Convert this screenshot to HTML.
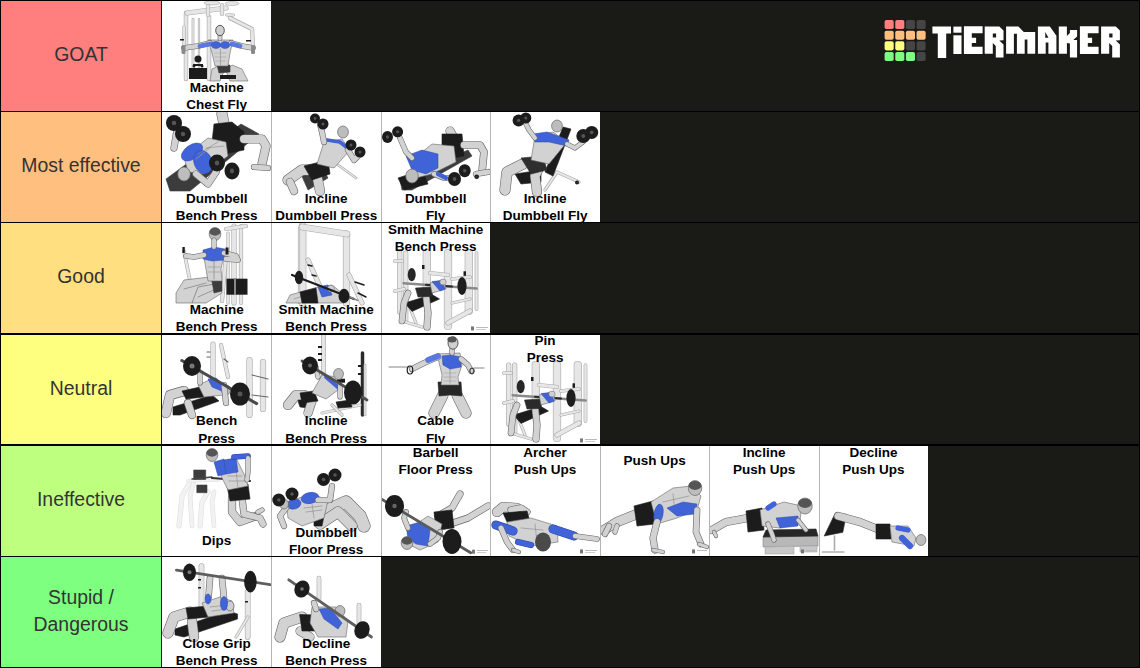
<!DOCTYPE html><html><head><meta charset="utf-8"><style>
html,body{margin:0;padding:0;background:#000;width:1140px;height:668px;overflow:hidden;position:relative;font-family:"Liberation Sans",sans-serif}
.lab{position:absolute;left:1px;width:160px;display:flex;align-items:center;justify-content:center;text-align:center;color:#333;font-size:19.4px;line-height:26.5px;padding-bottom:3.2px;box-sizing:border-box}
.it{position:absolute;background:#fff;overflow:hidden}
.it svg{position:absolute;left:0;top:0}
.cap{position:absolute;width:120px;text-align:center;font-weight:bold;font-size:13.5px;line-height:16px;color:#000;white-space:nowrap}
.logo{position:absolute;left:0;top:0}
</style></head><body>
<div style="position:absolute;left:1px;width:1138px;top:1px;height:109.5px;background:#1a1a17"></div>
<div class="lab" style="top:1px;height:109.5px;background:#ff7f7f">GOAT</div>
<div style="position:absolute;left:1px;width:1138px;top:112px;height:109.5px;background:#1a1a17"></div>
<div class="lab" style="top:112px;height:109.5px;background:#ffbf7f">Most effective</div>
<div style="position:absolute;left:1px;width:1138px;top:223.3px;height:109.5px;background:#1a1a17"></div>
<div class="lab" style="top:223.3px;height:109.5px;background:#ffdf7f">Good</div>
<div style="position:absolute;left:1px;width:1138px;top:334.7px;height:109.5px;background:#1a1a17"></div>
<div class="lab" style="top:334.7px;height:109.5px;background:#ffff7f">Neutral</div>
<div style="position:absolute;left:1px;width:1138px;top:446px;height:109.5px;background:#1a1a17"></div>
<div class="lab" style="top:446px;height:109.5px;background:#bfff7f">Ineffective</div>
<div style="position:absolute;left:1px;width:1138px;top:557.4px;height:109.5px;background:#1a1a17"></div>
<div class="lab" style="top:557.4px;height:109.5px;background:#7fff7f">Stupid /<br>Dangerous</div>
<div class="it" style="left:162.00px;top:1px;width:109.46px;height:109.5px;box-sizing:border-box"><svg width="110" height="110" viewBox="0 0 110 110"><polyline points="24,78 24,12" fill="none" stroke="#a8a8a8" stroke-width="4.4" stroke-linecap="round" stroke-linejoin="round"/><polyline points="24,78 24,12" fill="none" stroke="#e6e6e6" stroke-width="3.2" stroke-linecap="round" stroke-linejoin="round"/><polyline points="47,78 47,16" fill="none" stroke="#a8a8a8" stroke-width="4.4" stroke-linecap="round" stroke-linejoin="round"/><polyline points="47,78 47,16" fill="none" stroke="#e6e6e6" stroke-width="3.2" stroke-linecap="round" stroke-linejoin="round"/><polyline points="31,76 31,18" fill="none" stroke="#a8a8a8" stroke-width="2.7" stroke-linecap="round" stroke-linejoin="round"/><polyline points="31,76 31,18" fill="none" stroke="#e6e6e6" stroke-width="1.5" stroke-linecap="round" stroke-linejoin="round"/><polyline points="37,76 37,18" fill="none" stroke="#a8a8a8" stroke-width="2.2" stroke-linecap="round" stroke-linejoin="round"/><polyline points="37,76 37,18" fill="none" stroke="#e6e6e6" stroke-width="1" stroke-linecap="round" stroke-linejoin="round"/><polyline points="25,12 64,7" fill="none" stroke="#a8a8a8" stroke-width="5.2" stroke-linecap="round" stroke-linejoin="round"/><polyline points="25,12 64,7" fill="none" stroke="#e6e6e6" stroke-width="4" stroke-linecap="round" stroke-linejoin="round"/><ellipse cx="50" cy="2" rx="8" ry="2" fill="#e6e6e6" stroke="#a8a8a8" stroke-width="0.6" transform="rotate(0 50 2)"/><ellipse cx="70" cy="2.5" rx="7" ry="2" fill="#e6e6e6" stroke="#a8a8a8" stroke-width="0.6" transform="rotate(0 70 2.5)"/><polyline points="60,4 60,13" fill="none" stroke="#a8a8a8" stroke-width="4.2" stroke-linecap="round" stroke-linejoin="round"/><polyline points="60,4 60,13" fill="none" stroke="#e6e6e6" stroke-width="3" stroke-linecap="round" stroke-linejoin="round"/><polyline points="46,5 46,14" fill="none" stroke="#a8a8a8" stroke-width="4.2" stroke-linecap="round" stroke-linejoin="round"/><polyline points="46,5 46,14" fill="none" stroke="#e6e6e6" stroke-width="3" stroke-linecap="round" stroke-linejoin="round"/><ellipse cx="68" cy="14" rx="5" ry="1.6" fill="#e6e6e6" stroke="#a8a8a8" stroke-width="0.6" transform="rotate(0 68 14)"/><polyline points="68,17 90,28 91,46" fill="none" stroke="#a8a8a8" stroke-width="4.2" stroke-linecap="round" stroke-linejoin="round"/><polyline points="68,17 90,28 91,46" fill="none" stroke="#e6e6e6" stroke-width="3" stroke-linecap="round" stroke-linejoin="round"/><polyline points="22,26 22,48" fill="none" stroke="#a8a8a8" stroke-width="3.2" stroke-linecap="round" stroke-linejoin="round"/><polyline points="22,26 22,48" fill="none" stroke="#e6e6e6" stroke-width="2" stroke-linecap="round" stroke-linejoin="round"/><rect x="18" y="38" width="4" height="1.5" fill="#1c1c1c" stroke="none" stroke-width="0" rx="0"/><rect x="84" y="39" width="5" height="1.5" fill="#1c1c1c" stroke="none" stroke-width="0" rx="0"/><rect x="27" y="67" width="18" height="11" fill="#1c1c1c" stroke="none" stroke-width="0" rx="0"/><ellipse cx="36" cy="58" rx="3.5" ry="3.5" fill="#1c1c1c" stroke="none" stroke-width="0" transform="rotate(0 36 58)"/><rect x="31" y="63" width="10" height="2" fill="#1c1c1c" stroke="none" stroke-width="0" rx="0"/><ellipse cx="32" cy="65" rx="1.5" ry="1.5" fill="#1c1c1c" stroke="none" stroke-width="0" transform="rotate(0 32 65)"/><ellipse cx="40" cy="65" rx="1.5" ry="1.5" fill="#1c1c1c" stroke="none" stroke-width="0" transform="rotate(0 40 65)"/><polygon points="48,80 50,68 58,64 62,70 58,80" fill="#d2d2d2" stroke="#666666" stroke-width="0.6" stroke-linejoin="round"/><polygon points="64,70 70,64 80,68 86,80 68,80" fill="#d2d2d2" stroke="#666666" stroke-width="0.6" stroke-linejoin="round"/><polygon points="55,64 68,64 68,71 57,72" fill="#3a3a3a" stroke="#3a3a3a" stroke-width="0.6" stroke-linejoin="round"/><rect x="58" y="74" width="16" height="4" fill="#1c1c1c" stroke="none" stroke-width="0" rx="0"/><polygon points="46,39 71,39 68,52 66,65 53,65 50,52" fill="#d2d2d2" stroke="#666666" stroke-width="0.6" stroke-linejoin="round"/><line x1="58.5" y1="48" x2="58.5" y2="64" stroke="#888" stroke-width="0.6" stroke-linecap="round"/><line x1="53" y1="52" x2="64" y2="52" stroke="#999" stroke-width="0.5" stroke-linecap="round"/><line x1="53" y1="56" x2="64" y2="56" stroke="#999" stroke-width="0.5" stroke-linecap="round"/><line x1="54" y1="60" x2="63" y2="60" stroke="#999" stroke-width="0.5" stroke-linecap="round"/><polyline points="22,47 36,45 48,42" fill="none" stroke="#666666" stroke-width="5.7" stroke-linecap="round" stroke-linejoin="round"/><polyline points="22,47 36,45 48,42" fill="none" stroke="#d2d2d2" stroke-width="4.5" stroke-linecap="round" stroke-linejoin="round"/><polyline points="69,42 80,45 91,47" fill="none" stroke="#666666" stroke-width="5.7" stroke-linecap="round" stroke-linejoin="round"/><polyline points="69,42 80,45 91,47" fill="none" stroke="#d2d2d2" stroke-width="4.5" stroke-linecap="round" stroke-linejoin="round"/><polyline points="38,45 48,43" fill="none" stroke="#5a78e0" stroke-width="4.7" stroke-linecap="round" stroke-linejoin="round"/><polyline points="38,45 48,43" fill="none" stroke="#5a78e0" stroke-width="3.5" stroke-linecap="round" stroke-linejoin="round"/><polyline points="70,43 78,45" fill="none" stroke="#5a78e0" stroke-width="4.7" stroke-linecap="round" stroke-linejoin="round"/><polyline points="70,43 78,45" fill="none" stroke="#5a78e0" stroke-width="3.5" stroke-linecap="round" stroke-linejoin="round"/><ellipse cx="54" cy="44" rx="4.8" ry="3.6" fill="#4163d8" stroke="#2a47a8" stroke-width="0.4" transform="rotate(0 54 44)"/><ellipse cx="63" cy="44" rx="4.8" ry="3.6" fill="#4163d8" stroke="#2a47a8" stroke-width="0.4" transform="rotate(0 63 44)"/><polyline points="58,34 58,38" fill="none" stroke="#666666" stroke-width="4.7" stroke-linecap="round" stroke-linejoin="round"/><polyline points="58,34 58,38" fill="none" stroke="#d2d2d2" stroke-width="3.5" stroke-linecap="round" stroke-linejoin="round"/><ellipse cx="58" cy="29.5" rx="4.3" ry="5.2" fill="#cfcfcf" stroke="#444" stroke-width="0.9" transform="rotate(0 58 29.5)"/><rect x="19.5" y="44" width="4" height="9" fill="#8a8a8a" stroke="none" stroke-width="0" rx="1.5"/><rect x="89" y="44" width="4" height="9" fill="#8a8a8a" stroke="none" stroke-width="0" rx="1.5"/></svg></div>
<div class="cap" style="left:156.73px;top:79.70px">Machine</div><div class="cap" style="left:156.73px;top:97.00px">Chest Fly</div>
<div class="it" style="left:162.00px;top:112px;width:109.46px;height:109.5px;box-sizing:border-box"><svg width="110" height="110" viewBox="0 0 110 110"><polygon points="4,67 79,12 97,22 28,79 8,79" fill="#3c3c3c" stroke="#3c3c3c" stroke-width="0.6" stroke-linejoin="round"/><polyline points="60,2 62,12" fill="none" stroke="#666666" stroke-width="11.2" stroke-linecap="round" stroke-linejoin="round"/><polyline points="60,2 62,12" fill="none" stroke="#d2d2d2" stroke-width="10" stroke-linecap="round" stroke-linejoin="round"/><polygon points="52,12 70,10 82,20 82,38 62,42 50,30" fill="#1c1c1c" stroke="#1c1c1c" stroke-width="0.6" stroke-linejoin="round"/><polyline points="82,27 100,27 104,34 100,52" fill="none" stroke="#666666" stroke-width="9.2" stroke-linecap="round" stroke-linejoin="round"/><polyline points="82,27 100,27 104,34 100,52" fill="none" stroke="#d2d2d2" stroke-width="8" stroke-linecap="round" stroke-linejoin="round"/><polyline points="92,55 106,56" fill="none" stroke="#666666" stroke-width="6.2" stroke-linecap="round" stroke-linejoin="round"/><polyline points="92,55 106,56" fill="none" stroke="#d2d2d2" stroke-width="5" stroke-linecap="round" stroke-linejoin="round"/><polygon points="22,45 46,26 64,30 66,44 42,62 26,60" fill="#d2d2d2" stroke="#666666" stroke-width="0.6" stroke-linejoin="round"/><ellipse cx="30" cy="40" rx="12" ry="7" fill="#4163d8" stroke="#2a47a8" stroke-width="0.5" transform="rotate(-35 30 40)"/><ellipse cx="41" cy="50" rx="9" ry="12" fill="#4163d8" stroke="#2a47a8" stroke-width="0.5" transform="rotate(-20 41 50)"/><line x1="34" y1="47" x2="48" y2="36" stroke="#999" stroke-width="0.8" stroke-linecap="round"/><line x1="36" y1="42" x2="56" y2="30" stroke="#888" stroke-width="0.6" stroke-linecap="round"/><line x1="44" y1="36" x2="62" y2="34" stroke="#888" stroke-width="0.6" stroke-linecap="round"/><polyline points="12,36 14,24 16,14" fill="none" stroke="#666666" stroke-width="7.2" stroke-linecap="round" stroke-linejoin="round"/><polyline points="12,36 14,24 16,14" fill="none" stroke="#d2d2d2" stroke-width="6" stroke-linecap="round" stroke-linejoin="round"/><polyline points="34,62 46,72 54,60 56,54" fill="none" stroke="#666666" stroke-width="7.2" stroke-linecap="round" stroke-linejoin="round"/><polyline points="34,62 46,72 54,60 56,54" fill="none" stroke="#d2d2d2" stroke-width="6" stroke-linecap="round" stroke-linejoin="round"/><ellipse cx="22" cy="62" rx="6.3" ry="7" fill="#bdbdbd" stroke="#666666" stroke-width="0.7" transform="rotate(0 22 62)"/><ellipse cx="12" cy="11" rx="8" ry="8" fill="#1c1c1c" stroke="none" stroke-width="0" transform="rotate(0 12 11)"/><ellipse cx="12" cy="11" rx="2.24" ry="2.24" fill="#555" stroke="none" stroke-width="0" transform="rotate(0 12 11)"/><ellipse cx="21" cy="22" rx="8" ry="8" fill="#1c1c1c" stroke="none" stroke-width="0" transform="rotate(0 21 22)"/><ellipse cx="21" cy="22" rx="2.24" ry="2.24" fill="#555" stroke="none" stroke-width="0" transform="rotate(0 21 22)"/><ellipse cx="55" cy="51" rx="8" ry="8.5" fill="#1c1c1c" stroke="none" stroke-width="0" transform="rotate(0 55 51)"/><ellipse cx="55" cy="51" rx="2.24" ry="2.3800000000000003" fill="#555" stroke="none" stroke-width="0" transform="rotate(0 55 51)"/><ellipse cx="70" cy="59" rx="7.5" ry="8.5" fill="#1c1c1c" stroke="none" stroke-width="0" transform="rotate(0 70 59)"/><ellipse cx="70" cy="59" rx="2.1" ry="2.3800000000000003" fill="#555" stroke="none" stroke-width="0" transform="rotate(0 70 59)"/></svg></div>
<div class="cap" style="left:156.73px;top:190.70px">Dumbbell</div><div class="cap" style="left:156.73px;top:208.00px">Bench Press</div>
<div class="it" style="left:271.46px;top:112px;width:109.46px;height:109.5px;border-left:1px solid #b4b4b4;box-sizing:border-box"><svg width="110" height="110" viewBox="0 0 110 110"><polygon points="28,60 48,52 56,66 36,78" fill="#3c3c3c" stroke="#3c3c3c" stroke-width="0.6" stroke-linejoin="round"/><polyline points="62,50 84,66" fill="none" stroke="#a8a8a8" stroke-width="2.7" stroke-linecap="round" stroke-linejoin="round"/><polyline points="62,50 84,66" fill="none" stroke="#e6e6e6" stroke-width="1.5" stroke-linecap="round" stroke-linejoin="round"/><polyline points="16,68 30,58 38,58" fill="none" stroke="#666666" stroke-width="11.2" stroke-linecap="round" stroke-linejoin="round"/><polyline points="16,68 30,58 38,58" fill="none" stroke="#d2d2d2" stroke-width="10" stroke-linecap="round" stroke-linejoin="round"/><polyline points="18,70 22,79" fill="none" stroke="#666666" stroke-width="8.2" stroke-linecap="round" stroke-linejoin="round"/><polyline points="18,70 22,79" fill="none" stroke="#d2d2d2" stroke-width="7" stroke-linecap="round" stroke-linejoin="round"/><polyline points="45,64 48,79" fill="none" stroke="#666666" stroke-width="10.2" stroke-linecap="round" stroke-linejoin="round"/><polyline points="45,64 48,79" fill="none" stroke="#d2d2d2" stroke-width="9" stroke-linecap="round" stroke-linejoin="round"/><polygon points="32,54 56,48 58,62 40,68" fill="#1c1c1c" stroke="#1c1c1c" stroke-width="0.6" stroke-linejoin="round"/><polygon points="45,52 52,30 70,27 78,38 62,56" fill="#d2d2d2" stroke="#666666" stroke-width="0.6" stroke-linejoin="round"/><polyline points="55,28 68,30 78,38" fill="none" stroke="#4163d8" stroke-width="3.7" stroke-linecap="round" stroke-linejoin="round"/><polyline points="55,28 68,30 78,38" fill="none" stroke="#4163d8" stroke-width="2.5" stroke-linecap="round" stroke-linejoin="round"/><polyline points="52,30 50,20 48,12" fill="none" stroke="#666666" stroke-width="6.2" stroke-linecap="round" stroke-linejoin="round"/><polyline points="52,30 50,20 48,12" fill="none" stroke="#d2d2d2" stroke-width="5" stroke-linecap="round" stroke-linejoin="round"/><polyline points="76,38 82,48 86,44" fill="none" stroke="#666666" stroke-width="6.2" stroke-linecap="round" stroke-linejoin="round"/><polyline points="76,38 82,48 86,44" fill="none" stroke="#d2d2d2" stroke-width="5" stroke-linecap="round" stroke-linejoin="round"/><ellipse cx="71" cy="20" rx="5.4" ry="6" fill="#bdbdbd" stroke="#666666" stroke-width="0.7" transform="rotate(0 71 20)"/><ellipse cx="43" cy="6.5" rx="5" ry="5" fill="#1c1c1c" stroke="none" stroke-width="0" transform="rotate(0 43 6.5)"/><ellipse cx="43" cy="6.5" rx="1.4000000000000001" ry="1.4000000000000001" fill="#555" stroke="none" stroke-width="0" transform="rotate(0 43 6.5)"/><ellipse cx="51" cy="12" rx="5.5" ry="5.5" fill="#1c1c1c" stroke="none" stroke-width="0" transform="rotate(0 51 12)"/><ellipse cx="51" cy="12" rx="1.54" ry="1.54" fill="#555" stroke="none" stroke-width="0" transform="rotate(0 51 12)"/><ellipse cx="79" cy="33" rx="5.5" ry="5.5" fill="#1c1c1c" stroke="none" stroke-width="0" transform="rotate(0 79 33)"/><ellipse cx="79" cy="33" rx="1.54" ry="1.54" fill="#555" stroke="none" stroke-width="0" transform="rotate(0 79 33)"/><ellipse cx="88" cy="40" rx="5.5" ry="5.5" fill="#1c1c1c" stroke="none" stroke-width="0" transform="rotate(0 88 40)"/><ellipse cx="88" cy="40" rx="1.54" ry="1.54" fill="#555" stroke="none" stroke-width="0" transform="rotate(0 88 40)"/></svg></div>
<div class="cap" style="left:266.19px;top:190.70px">Incline</div><div class="cap" style="left:266.19px;top:208.00px">Dumbbell Press</div>
<div class="it" style="left:380.92px;top:112px;width:109.46px;height:109.5px;border-left:1px solid #b4b4b4;box-sizing:border-box"><svg width="110" height="110" viewBox="0 0 110 110"><polygon points="18,68 86,38 90,44 30,78 20,78" fill="#3c3c3c" stroke="#3c3c3c" stroke-width="0.6" stroke-linejoin="round"/><polygon points="16,66 40,58 46,72 22,78" fill="#1c1c1c" stroke="#1c1c1c" stroke-width="0.6" stroke-linejoin="round"/><polyline points="68,19 72,26" fill="none" stroke="#666666" stroke-width="9.2" stroke-linecap="round" stroke-linejoin="round"/><polyline points="68,19 72,26" fill="none" stroke="#d2d2d2" stroke-width="8" stroke-linecap="round" stroke-linejoin="round"/><polygon points="60,22 80,22 82,44 60,48" fill="#1c1c1c" stroke="#1c1c1c" stroke-width="0.6" stroke-linejoin="round"/><polyline points="82,33 98,33 102,40 100,60" fill="none" stroke="#666666" stroke-width="7.7" stroke-linecap="round" stroke-linejoin="round"/><polyline points="82,33 98,33 102,40 100,60" fill="none" stroke="#d2d2d2" stroke-width="6.5" stroke-linecap="round" stroke-linejoin="round"/><polyline points="94,62 106,60" fill="none" stroke="#666666" stroke-width="6.2" stroke-linecap="round" stroke-linejoin="round"/><polyline points="94,62 106,60" fill="none" stroke="#d2d2d2" stroke-width="5" stroke-linecap="round" stroke-linejoin="round"/><polygon points="28,50 50,32 72,34 74,50 50,62 34,66" fill="#d2d2d2" stroke="#666666" stroke-width="0.6" stroke-linejoin="round"/><polygon points="24,44 40,38 56,42 56,56 44,62 30,58" fill="#4163d8" stroke="#2a47a8" stroke-width="0.5" stroke-linejoin="round"/><polyline points="18,26 24,40 30,46" fill="none" stroke="#666666" stroke-width="5.7" stroke-linecap="round" stroke-linejoin="round"/><polyline points="18,26 24,40 30,46" fill="none" stroke="#d2d2d2" stroke-width="4.5" stroke-linecap="round" stroke-linejoin="round"/><polyline points="52,62 62,66 70,66" fill="none" stroke="#666666" stroke-width="5.7" stroke-linecap="round" stroke-linejoin="round"/><polyline points="52,62 62,66 70,66" fill="none" stroke="#d2d2d2" stroke-width="4.5" stroke-linecap="round" stroke-linejoin="round"/><polyline points="56,62 64,66" fill="none" stroke="#4163d8" stroke-width="4.2" stroke-linecap="round" stroke-linejoin="round"/><polyline points="56,62 64,66" fill="none" stroke="#4163d8" stroke-width="3" stroke-linecap="round" stroke-linejoin="round"/><ellipse cx="30" cy="64" rx="6.3" ry="7" fill="#bdbdbd" stroke="#666666" stroke-width="0.7" transform="rotate(0 30 64)"/><ellipse cx="15.6" cy="19.8" rx="5.5" ry="5.5" fill="#1c1c1c" stroke="none" stroke-width="0" transform="rotate(0 15.6 19.8)"/><ellipse cx="15.6" cy="19.8" rx="1.54" ry="1.54" fill="#555" stroke="none" stroke-width="0" transform="rotate(0 15.6 19.8)"/><ellipse cx="5.5" cy="25" rx="5.5" ry="6" fill="#1c1c1c" stroke="none" stroke-width="0" transform="rotate(0 5.5 25)"/><ellipse cx="5.5" cy="25" rx="1.54" ry="1.6800000000000002" fill="#555" stroke="none" stroke-width="0" transform="rotate(0 5.5 25)"/><ellipse cx="82.7" cy="58.7" rx="6" ry="6.5" fill="#1c1c1c" stroke="none" stroke-width="0" transform="rotate(0 82.7 58.7)"/><ellipse cx="82.7" cy="58.7" rx="1.6800000000000002" ry="1.8200000000000003" fill="#555" stroke="none" stroke-width="0" transform="rotate(0 82.7 58.7)"/><ellipse cx="72.5" cy="67" rx="6.5" ry="7" fill="#1c1c1c" stroke="none" stroke-width="0" transform="rotate(0 72.5 67)"/><ellipse cx="72.5" cy="67" rx="1.8200000000000003" ry="1.9600000000000002" fill="#555" stroke="none" stroke-width="0" transform="rotate(0 72.5 67)"/><ellipse cx="94.7" cy="64.7" rx="2.3" ry="2.3" fill="#1c1c1c" stroke="none" stroke-width="0" transform="rotate(0 94.7 64.7)"/><ellipse cx="94.7" cy="64.7" rx="0.644" ry="0.644" fill="#555" stroke="none" stroke-width="0" transform="rotate(0 94.7 64.7)"/></svg></div>
<div class="cap" style="left:375.65px;top:190.70px">Dumbbell</div><div class="cap" style="left:375.65px;top:208.00px">Fly</div>
<div class="it" style="left:490.38px;top:112px;width:109.46px;height:109.5px;border-left:1px solid #b4b4b4;box-sizing:border-box"><svg width="110" height="110" viewBox="0 0 110 110"><polyline points="54,78 66,60 88,70" fill="none" stroke="#a8a8a8" stroke-width="3.2" stroke-linecap="round" stroke-linejoin="round"/><polyline points="54,78 66,60 88,70" fill="none" stroke="#e6e6e6" stroke-width="2" stroke-linecap="round" stroke-linejoin="round"/><ellipse cx="86" cy="70.5" rx="2" ry="2" fill="#1c1c1c" stroke="none" stroke-width="0" transform="rotate(0 86 70.5)"/><ellipse cx="86" cy="70.5" rx="0.56" ry="0.56" fill="#555" stroke="none" stroke-width="0" transform="rotate(0 86 70.5)"/><polygon points="72,15 80,17 62,64 54,60" fill="#1c1c1c" stroke="#1c1c1c" stroke-width="0.6" stroke-linejoin="round"/><polygon points="24,62 50,58 50,70 30,72" fill="#1c1c1c" stroke="#1c1c1c" stroke-width="0.6" stroke-linejoin="round"/><polyline points="14,78 16,60 32,52" fill="none" stroke="#666666" stroke-width="11.2" stroke-linecap="round" stroke-linejoin="round"/><polyline points="14,78 16,60 32,52" fill="none" stroke="#d2d2d2" stroke-width="10" stroke-linecap="round" stroke-linejoin="round"/><polyline points="46,80 44,64 48,56" fill="none" stroke="#666666" stroke-width="10.2" stroke-linecap="round" stroke-linejoin="round"/><polyline points="46,80 44,64 48,56" fill="none" stroke="#d2d2d2" stroke-width="9" stroke-linecap="round" stroke-linejoin="round"/><polygon points="30,46 52,44 56,58 40,62" fill="#2e2e2e" stroke="#2e2e2e" stroke-width="0.6" stroke-linejoin="round"/><polygon points="40,48 44,24 62,20 76,30 58,52" fill="#d2d2d2" stroke="#666666" stroke-width="0.6" stroke-linejoin="round"/><polygon points="42,22 56,20 78,28 76,34 58,30 44,30" fill="#4163d8" stroke="#2a47a8" stroke-width="0.5" stroke-linejoin="round"/><polyline points="44,26 38,18 34,10" fill="none" stroke="#666666" stroke-width="5.2" stroke-linecap="round" stroke-linejoin="round"/><polyline points="44,26 38,18 34,10" fill="none" stroke="#d2d2d2" stroke-width="4" stroke-linecap="round" stroke-linejoin="round"/><polyline points="76,32 84,36 92,30" fill="none" stroke="#666666" stroke-width="5.2" stroke-linecap="round" stroke-linejoin="round"/><polyline points="76,32 84,36 92,30" fill="none" stroke="#d2d2d2" stroke-width="4" stroke-linecap="round" stroke-linejoin="round"/><ellipse cx="66" cy="14" rx="5.4" ry="6" fill="#bdbdbd" stroke="#666666" stroke-width="0.7" transform="rotate(0 66 14)"/><ellipse cx="27.6" cy="8.4" rx="6" ry="6" fill="#1c1c1c" stroke="none" stroke-width="0" transform="rotate(0 27.6 8.4)"/><ellipse cx="27.6" cy="8.4" rx="1.6800000000000002" ry="1.6800000000000002" fill="#555" stroke="none" stroke-width="0" transform="rotate(0 27.6 8.4)"/><ellipse cx="34.8" cy="6" rx="5.5" ry="5.5" fill="#1c1c1c" stroke="none" stroke-width="0" transform="rotate(0 34.8 6)"/><ellipse cx="34.8" cy="6" rx="1.54" ry="1.54" fill="#555" stroke="none" stroke-width="0" transform="rotate(0 34.8 6)"/><ellipse cx="92.3" cy="24" rx="7" ry="7" fill="#1c1c1c" stroke="none" stroke-width="0" transform="rotate(0 92.3 24)"/><ellipse cx="92.3" cy="24" rx="1.9600000000000002" ry="1.9600000000000002" fill="#555" stroke="none" stroke-width="0" transform="rotate(0 92.3 24)"/><ellipse cx="100.7" cy="20.4" rx="6.5" ry="6.5" fill="#1c1c1c" stroke="none" stroke-width="0" transform="rotate(0 100.7 20.4)"/><ellipse cx="100.7" cy="20.4" rx="1.8200000000000003" ry="1.8200000000000003" fill="#555" stroke="none" stroke-width="0" transform="rotate(0 100.7 20.4)"/></svg></div>
<div class="cap" style="left:485.11px;top:190.70px">Incline</div><div class="cap" style="left:485.11px;top:208.00px">Dumbbell Fly</div>
<div class="it" style="left:162.00px;top:223.3px;width:109.46px;height:109.5px;box-sizing:border-box"><svg width="110" height="110" viewBox="0 0 110 110"><polyline points="72,80 72,3" fill="none" stroke="#a8a8a8" stroke-width="5.2" stroke-linecap="round" stroke-linejoin="round"/><polyline points="72,80 72,3" fill="none" stroke="#e6e6e6" stroke-width="4" stroke-linecap="round" stroke-linejoin="round"/><polyline points="79,80 79,3" fill="none" stroke="#a8a8a8" stroke-width="4.2" stroke-linecap="round" stroke-linejoin="round"/><polyline points="79,80 79,3" fill="none" stroke="#e6e6e6" stroke-width="3" stroke-linecap="round" stroke-linejoin="round"/><polyline points="64,6 84,3" fill="none" stroke="#a8a8a8" stroke-width="4.2" stroke-linecap="round" stroke-linejoin="round"/><polyline points="64,6 84,3" fill="none" stroke="#e6e6e6" stroke-width="3" stroke-linecap="round" stroke-linejoin="round"/><polyline points="66,80 66,10" fill="none" stroke="#a8a8a8" stroke-width="3.2" stroke-linecap="round" stroke-linejoin="round"/><polyline points="66,80 66,10" fill="none" stroke="#e6e6e6" stroke-width="2" stroke-linecap="round" stroke-linejoin="round"/><polyline points="22,28 28,58" fill="none" stroke="#a8a8a8" stroke-width="3.7" stroke-linecap="round" stroke-linejoin="round"/><polyline points="22,28 28,58" fill="none" stroke="#e6e6e6" stroke-width="2.5" stroke-linecap="round" stroke-linejoin="round"/><polyline points="64,32 60,78" fill="none" stroke="#a8a8a8" stroke-width="4.2" stroke-linecap="round" stroke-linejoin="round"/><polyline points="64,32 60,78" fill="none" stroke="#e6e6e6" stroke-width="3" stroke-linecap="round" stroke-linejoin="round"/><rect x="64.5" y="55.7" width="21" height="16" fill="#1c1c1c" stroke="none" stroke-width="0" rx="0"/><rect x="72" y="55" width="2" height="17" fill="#888" stroke="none" stroke-width="0" rx="0"/><polygon points="22,57 48,54 52,64 30,80 14,80 14,70" fill="#d2d2d2" stroke="#666666" stroke-width="0.6" stroke-linejoin="round"/><polygon points="36,64 58,60 60,70 44,80 30,80" fill="#d2d2d2" stroke="#666666" stroke-width="0.6" stroke-linejoin="round"/><line x1="22" y1="66" x2="44" y2="60" stroke="#888" stroke-width="0.8" stroke-linecap="round"/><line x1="36" y1="74" x2="54" y2="66" stroke="#888" stroke-width="0.8" stroke-linecap="round"/><polygon points="50,58 60,58 60,68 52,70" fill="#3c3c3c" stroke="#3c3c3c" stroke-width="0.6" stroke-linejoin="round"/><polygon points="42,34 62,32 59,46 60,58 46,58 44,46" fill="#d2d2d2" stroke="#666666" stroke-width="0.6" stroke-linejoin="round"/><line x1="52" y1="38" x2="52" y2="56" stroke="#888" stroke-width="0.7" stroke-linecap="round"/><line x1="46" y1="44" x2="58" y2="44" stroke="#999" stroke-width="0.6" stroke-linecap="round"/><line x1="46" y1="49" x2="58" y2="49" stroke="#999" stroke-width="0.6" stroke-linecap="round"/><polygon points="41,27 52,24 63,26 62,37 50,38 41,36" fill="#4163d8" stroke="#2a47a8" stroke-width="0.5" stroke-linejoin="round"/><polyline points="42,32 32,34 24,33" fill="none" stroke="#666666" stroke-width="5.7" stroke-linecap="round" stroke-linejoin="round"/><polyline points="42,32 32,34 24,33" fill="none" stroke="#d2d2d2" stroke-width="4.5" stroke-linecap="round" stroke-linejoin="round"/><polyline points="62,30 74,33 76,37 64,36" fill="none" stroke="#666666" stroke-width="5.7" stroke-linecap="round" stroke-linejoin="round"/><polyline points="62,30 74,33 76,37 64,36" fill="none" stroke="#d2d2d2" stroke-width="4.5" stroke-linecap="round" stroke-linejoin="round"/><ellipse cx="53" cy="11" rx="5.8500000000000005" ry="6.5" fill="#bdbdbd" stroke="#666666" stroke-width="0.7" transform="rotate(0 53 11)"/><ellipse cx="53" cy="8.725" rx="5.5249999999999995" ry="3.9" fill="#555" stroke="none" stroke-width="0" transform="rotate(0 53 8.725)"/><polyline points="52,17 52,24" fill="none" stroke="#666666" stroke-width="5.2" stroke-linecap="round" stroke-linejoin="round"/><polyline points="52,17 52,24" fill="none" stroke="#d2d2d2" stroke-width="4" stroke-linecap="round" stroke-linejoin="round"/><rect x="20.4" y="24" width="2.4" height="6" fill="#1c1c1c" stroke="none" stroke-width="0" rx="0"/><rect x="63.5" y="24.5" width="3" height="7" fill="#1c1c1c" stroke="none" stroke-width="0" rx="0"/></svg></div>
<div class="cap" style="left:156.73px;top:302.00px">Machine</div><div class="cap" style="left:156.73px;top:319.30px">Bench Press</div>
<div class="it" style="left:271.46px;top:223.3px;width:109.46px;height:109.5px;border-left:1px solid #b4b4b4;box-sizing:border-box"><svg width="110" height="110" viewBox="0 0 110 110"><polyline points="30.5,80 30.5,3" fill="none" stroke="#a8a8a8" stroke-width="7.7" stroke-linecap="round" stroke-linejoin="round"/><polyline points="30.5,80 30.5,3" fill="none" stroke="#e6e6e6" stroke-width="6.5" stroke-linecap="round" stroke-linejoin="round"/><polyline points="74.5,80 74.5,11" fill="none" stroke="#a8a8a8" stroke-width="7.2" stroke-linecap="round" stroke-linejoin="round"/><polyline points="74.5,80 74.5,11" fill="none" stroke="#e6e6e6" stroke-width="6" stroke-linecap="round" stroke-linejoin="round"/><polyline points="30,4 75,11" fill="none" stroke="#a8a8a8" stroke-width="6.7" stroke-linecap="round" stroke-linejoin="round"/><polyline points="30,4 75,11" fill="none" stroke="#e6e6e6" stroke-width="5.5" stroke-linecap="round" stroke-linejoin="round"/><polyline points="27,80 27,5" fill="none" stroke="#a8a8a8" stroke-width="2.2" stroke-linecap="round" stroke-linejoin="round"/><polyline points="27,80 27,5" fill="none" stroke="#e6e6e6" stroke-width="1" stroke-linecap="round" stroke-linejoin="round"/><polyline points="36,37 50,68" fill="none" stroke="#a8a8a8" stroke-width="5.2" stroke-linecap="round" stroke-linejoin="round"/><polyline points="36,37 50,68" fill="none" stroke="#e6e6e6" stroke-width="4" stroke-linecap="round" stroke-linejoin="round"/><polyline points="77,52 90,80" fill="none" stroke="#a8a8a8" stroke-width="5.2" stroke-linecap="round" stroke-linejoin="round"/><polyline points="77,52 90,80" fill="none" stroke="#e6e6e6" stroke-width="4" stroke-linecap="round" stroke-linejoin="round"/><line x1="36" y1="42" x2="40" y2="43" stroke="#1c1c1c" stroke-width="1.5" stroke-linecap="round"/><line x1="40" y1="52" x2="44" y2="53" stroke="#1c1c1c" stroke-width="1.5" stroke-linecap="round"/><line x1="83" y1="59" x2="92" y2="62" stroke="#1c1c1c" stroke-width="1.5" stroke-linecap="round"/><line x1="86" y1="70" x2="94" y2="74" stroke="#1c1c1c" stroke-width="1.5" stroke-linecap="round"/><polygon points="14,80 18,72 32,68 46,64 60,62 70,70 72,80" fill="#d2d2d2" stroke="#666666" stroke-width="0.6" stroke-linejoin="round"/><line x1="22" y1="76" x2="34" y2="72" stroke="#888" stroke-width="0.6" stroke-linecap="round"/><line x1="50" y1="70" x2="62" y2="68" stroke="#888" stroke-width="0.6" stroke-linecap="round"/><polygon points="28,69 44,65 46,80 30,80" fill="#1c1c1c" stroke="#1c1c1c" stroke-width="0.6" stroke-linejoin="round"/><polygon points="46,64 56,62 60,72 50,74" fill="#4163d8" stroke="#2a47a8" stroke-width="0.5" stroke-linejoin="round"/><ellipse cx="59" cy="65.5" rx="3.4" ry="3.2" fill="#d0d0d0" stroke="#666666" stroke-width="0.5" transform="rotate(0 59 65.5)"/><line x1="20" y1="52" x2="82" y2="76" stroke="#1c1c1c" stroke-width="2.2" stroke-linecap="round"/><line x1="74" y1="72.5" x2="86" y2="77.5" stroke="#888" stroke-width="1.6" stroke-linecap="round"/><ellipse cx="27" cy="54.5" rx="4.2" ry="6.8" fill="#1c1c1c" stroke="none" stroke-width="0" transform="rotate(0 27 54.5)"/><ellipse cx="72" cy="73" rx="5.5" ry="7.2" fill="#1c1c1c" stroke="none" stroke-width="0" transform="rotate(0 72 73)"/></svg></div>
<div class="cap" style="left:266.19px;top:302.00px">Smith Machine</div><div class="cap" style="left:266.19px;top:319.30px">Bench Press</div>
<div class="it" style="left:380.92px;top:223.3px;width:109.46px;height:109.5px;border-left:1px solid #b4b4b4;box-sizing:border-box"><svg width="110" height="110" viewBox="0 0 110 110"><polyline points="17.7,30 17.7,89" fill="none" stroke="#a8a8a8" stroke-width="5.2" stroke-linecap="round" stroke-linejoin="round"/><polyline points="17.7,30 17.7,89" fill="none" stroke="#e6e6e6" stroke-width="4" stroke-linecap="round" stroke-linejoin="round"/><polyline points="23.7,30 23.7,97" fill="none" stroke="#a8a8a8" stroke-width="5.2" stroke-linecap="round" stroke-linejoin="round"/><polyline points="23.7,30 23.7,97" fill="none" stroke="#e6e6e6" stroke-width="4" stroke-linecap="round" stroke-linejoin="round"/><polyline points="44.8,30 44.8,76" fill="none" stroke="#a8a8a8" stroke-width="8.2" stroke-linecap="round" stroke-linejoin="round"/><polyline points="44.8,30 44.8,76" fill="none" stroke="#e6e6e6" stroke-width="7" stroke-linecap="round" stroke-linejoin="round"/><polyline points="66,30 66,103" fill="none" stroke="#a8a8a8" stroke-width="8.2" stroke-linecap="round" stroke-linejoin="round"/><polyline points="66,30 66,103" fill="none" stroke="#e6e6e6" stroke-width="7" stroke-linecap="round" stroke-linejoin="round"/><polyline points="86.8,30 86.8,88" fill="none" stroke="#a8a8a8" stroke-width="8.2" stroke-linecap="round" stroke-linejoin="round"/><polyline points="86.8,30 86.8,88" fill="none" stroke="#e6e6e6" stroke-width="7" stroke-linecap="round" stroke-linejoin="round"/><polyline points="94.5,30 94.5,86" fill="none" stroke="#a8a8a8" stroke-width="3.7" stroke-linecap="round" stroke-linejoin="round"/><polyline points="94.5,30 94.5,86" fill="none" stroke="#e6e6e6" stroke-width="2.5" stroke-linecap="round" stroke-linejoin="round"/><polyline points="13,38 20,38" fill="none" stroke="#a8a8a8" stroke-width="3.7" stroke-linecap="round" stroke-linejoin="round"/><polyline points="13,38 20,38" fill="none" stroke="#e6e6e6" stroke-width="2.5" stroke-linecap="round" stroke-linejoin="round"/><polyline points="13,68 22,66" fill="none" stroke="#a8a8a8" stroke-width="3.7" stroke-linecap="round" stroke-linejoin="round"/><polyline points="13,68 22,66" fill="none" stroke="#e6e6e6" stroke-width="2.5" stroke-linecap="round" stroke-linejoin="round"/><polyline points="48,50 66,52" fill="none" stroke="#a8a8a8" stroke-width="4.2" stroke-linecap="round" stroke-linejoin="round"/><polyline points="48,50 66,52" fill="none" stroke="#e6e6e6" stroke-width="3" stroke-linecap="round" stroke-linejoin="round"/><polyline points="70,56 88,54" fill="none" stroke="#a8a8a8" stroke-width="3.7" stroke-linecap="round" stroke-linejoin="round"/><polyline points="70,56 88,54" fill="none" stroke="#e6e6e6" stroke-width="2.5" stroke-linecap="round" stroke-linejoin="round"/><polyline points="66,100 88,88" fill="none" stroke="#a8a8a8" stroke-width="5.2" stroke-linecap="round" stroke-linejoin="round"/><polyline points="66,100 88,88" fill="none" stroke="#e6e6e6" stroke-width="4" stroke-linecap="round" stroke-linejoin="round"/><polyline points="70,80 88,76" fill="none" stroke="#a8a8a8" stroke-width="3.2" stroke-linecap="round" stroke-linejoin="round"/><polyline points="70,80 88,76" fill="none" stroke="#e6e6e6" stroke-width="2" stroke-linecap="round" stroke-linejoin="round"/><polyline points="26,80 34,100" fill="none" stroke="#a8a8a8" stroke-width="3.2" stroke-linecap="round" stroke-linejoin="round"/><polyline points="26,80 34,100" fill="none" stroke="#e6e6e6" stroke-width="2" stroke-linecap="round" stroke-linejoin="round"/><polyline points="20,98 40,104" fill="none" stroke="#a8a8a8" stroke-width="3.2" stroke-linecap="round" stroke-linejoin="round"/><polyline points="20,98 40,104" fill="none" stroke="#e6e6e6" stroke-width="2" stroke-linecap="round" stroke-linejoin="round"/><ellipse cx="29.7" cy="51.7" rx="4" ry="6.6" fill="#262626" stroke="none" stroke-width="0" transform="rotate(0 29.7 51.7)"/><rect x="40" y="42" width="2.5" height="4" fill="#1c1c1c" stroke="none" stroke-width="0" rx="0"/><rect x="81.5" y="48.3" width="2.5" height="4.5" fill="#1c1c1c" stroke="none" stroke-width="0" rx="0"/><line x1="21.6" y1="60.2" x2="94.7" y2="65.6" stroke="#8a8a8a" stroke-width="2.5" stroke-linecap="round"/><line x1="44" y1="61.8" x2="70" y2="63.5" stroke="#2a2a2a" stroke-width="2" stroke-linecap="round"/><ellipse cx="80" cy="63" rx="4.6" ry="9" fill="#1e1e1e" stroke="none" stroke-width="0" transform="rotate(0 80 63)"/><polygon points="22.8,80 50,71.6 57.5,76 30,88.4" fill="#1c1c1c" stroke="#1c1c1c" stroke-width="0.6" stroke-linejoin="round"/><polyline points="26,70 22,80 20,98" fill="none" stroke="#666666" stroke-width="6.7" stroke-linecap="round" stroke-linejoin="round"/><polyline points="26,70 22,80 20,98" fill="none" stroke="#d2d2d2" stroke-width="5.5" stroke-linecap="round" stroke-linejoin="round"/><polyline points="44,72 46,90 45,104" fill="none" stroke="#666666" stroke-width="7.2" stroke-linecap="round" stroke-linejoin="round"/><polyline points="44,72 46,90 45,104" fill="none" stroke="#d2d2d2" stroke-width="6" stroke-linecap="round" stroke-linejoin="round"/><polygon points="33.5,65 50.3,64 50.3,73.4 36,74" fill="#2a2a2a" stroke="#2a2a2a" stroke-width="0.6" stroke-linejoin="round"/><polygon points="48,60 62,57 64,66 50,70" fill="#d2d2d2" stroke="#666666" stroke-width="0.6" stroke-linejoin="round"/><polygon points="50,58.5 60,57.5 63,66 58,68" fill="#4163d8" stroke="#2a47a8" stroke-width="0.5" stroke-linejoin="round"/><ellipse cx="61" cy="59" rx="3.2" ry="3" fill="#d0d0d0" stroke="#666666" stroke-width="0.5" transform="rotate(0 61 59)"/><rect x="89" y="103.4" width="3" height="4" fill="#777" stroke="none" stroke-width="0" rx="0"/><rect x="94" y="104" width="12" height="1" fill="#bbb" stroke="none" stroke-width="0" rx="0"/><rect x="94" y="106" width="10" height="1" fill="#ccc" stroke="none" stroke-width="0" rx="0"/></svg></div>
<div class="cap" style="left:375.65px;top:221.90px">Smith Machine</div><div class="cap" style="left:375.65px;top:238.90px">Bench Press</div>
<div class="it" style="left:162.00px;top:334.7px;width:109.46px;height:109.5px;box-sizing:border-box"><svg width="110" height="110" viewBox="0 0 110 110"><polyline points="51,9 51,42" fill="none" stroke="#a8a8a8" stroke-width="5.2" stroke-linecap="round" stroke-linejoin="round"/><polyline points="51,9 51,42" fill="none" stroke="#e6e6e6" stroke-width="4" stroke-linecap="round" stroke-linejoin="round"/><polyline points="59,10 66,42" fill="none" stroke="#a8a8a8" stroke-width="4.2" stroke-linecap="round" stroke-linejoin="round"/><polyline points="59,10 66,42" fill="none" stroke="#e6e6e6" stroke-width="3" stroke-linecap="round" stroke-linejoin="round"/><polyline points="87.5,25 87.5,80" fill="none" stroke="#a8a8a8" stroke-width="6.2" stroke-linecap="round" stroke-linejoin="round"/><polyline points="87.5,25 87.5,80" fill="none" stroke="#e6e6e6" stroke-width="5" stroke-linecap="round" stroke-linejoin="round"/><polyline points="101,27 101,74" fill="none" stroke="#a8a8a8" stroke-width="6.2" stroke-linecap="round" stroke-linejoin="round"/><polyline points="101,27 101,74" fill="none" stroke="#e6e6e6" stroke-width="5" stroke-linecap="round" stroke-linejoin="round"/><line x1="48" y1="17" x2="45" y2="17" stroke="#666" stroke-width="1.2" stroke-linecap="round"/><line x1="48" y1="22" x2="45" y2="22" stroke="#666" stroke-width="1.2" stroke-linecap="round"/><line x1="62" y1="24" x2="66" y2="27" stroke="#666" stroke-width="1.2" stroke-linecap="round"/><line x1="90" y1="40" x2="106" y2="44" stroke="#666" stroke-width="1.2" stroke-linecap="round"/><line x1="90" y1="60" x2="106" y2="62" stroke="#666" stroke-width="1.2" stroke-linecap="round"/><polygon points="11,72 50,60 57,66 18,80 11,80" fill="#1c1c1c" stroke="#1c1c1c" stroke-width="0.6" stroke-linejoin="round"/><polyline points="4,78 8,60 22,56" fill="none" stroke="#666666" stroke-width="10.2" stroke-linecap="round" stroke-linejoin="round"/><polyline points="4,78 8,60 22,56" fill="none" stroke="#d2d2d2" stroke-width="9" stroke-linecap="round" stroke-linejoin="round"/><polyline points="26,68 30,80" fill="none" stroke="#666666" stroke-width="8.2" stroke-linecap="round" stroke-linejoin="round"/><polyline points="26,68 30,80" fill="none" stroke="#d2d2d2" stroke-width="7" stroke-linecap="round" stroke-linejoin="round"/><polygon points="20,56 38,52 42,62 24,64" fill="#1c1c1c" stroke="#1c1c1c" stroke-width="0.6" stroke-linejoin="round"/><polygon points="36,50 50,44 64,50 62,60 42,62" fill="#d2d2d2" stroke="#666666" stroke-width="0.6" stroke-linejoin="round"/><polygon points="46,44 54,43 64,52 62,57 50,52" fill="#4163d8" stroke="#2a47a8" stroke-width="0.5" stroke-linejoin="round"/><polyline points="38,48 38,38" fill="none" stroke="#666666" stroke-width="5.2" stroke-linecap="round" stroke-linejoin="round"/><polyline points="38,48 38,38" fill="none" stroke="#d2d2d2" stroke-width="4" stroke-linecap="round" stroke-linejoin="round"/><ellipse cx="64" cy="55" rx="4.5" ry="5" fill="#bdbdbd" stroke="#666666" stroke-width="0.7" transform="rotate(0 64 55)"/><polyline points="62,50 64,68" fill="none" stroke="#666666" stroke-width="6.2" stroke-linecap="round" stroke-linejoin="round"/><polyline points="62,50 64,68" fill="none" stroke="#d2d2d2" stroke-width="5" stroke-linecap="round" stroke-linejoin="round"/><line x1="19.8" y1="25.5" x2="94.7" y2="68.6" stroke="#4a4a4a" stroke-width="3" stroke-linecap="round"/><ellipse cx="30" cy="31" rx="9" ry="10" fill="#1c1c1c" stroke="none" stroke-width="0" transform="rotate(0 30 31)"/><ellipse cx="78" cy="59" rx="10" ry="11.5" fill="#1c1c1c" stroke="none" stroke-width="0" transform="rotate(0 78 59)"/><ellipse cx="30" cy="31" rx="2.5" ry="2.5" fill="#777" stroke="none" stroke-width="0" transform="rotate(0 30 31)"/><ellipse cx="78" cy="59" rx="2.5" ry="2.5" fill="#555" stroke="none" stroke-width="0" transform="rotate(0 78 59)"/></svg></div>
<div class="cap" style="left:156.73px;top:413.40px">Bench</div><div class="cap" style="left:156.73px;top:430.70px">Press</div>
<div class="it" style="left:271.46px;top:334.7px;width:109.46px;height:109.5px;border-left:1px solid #b4b4b4;box-sizing:border-box"><svg width="110" height="110" viewBox="0 0 110 110"><polyline points="51.5,1 51.5,42" fill="none" stroke="#a8a8a8" stroke-width="4.7" stroke-linecap="round" stroke-linejoin="round"/><polyline points="51.5,1 51.5,42" fill="none" stroke="#e6e6e6" stroke-width="3.5" stroke-linecap="round" stroke-linejoin="round"/><rect x="46" y="11" width="4" height="2" fill="#1c1c1c" stroke="none" stroke-width="0" rx="0"/><rect x="46" y="18" width="4" height="2" fill="#1c1c1c" stroke="none" stroke-width="0" rx="0"/><rect x="46" y="24" width="4" height="2" fill="#1c1c1c" stroke="none" stroke-width="0" rx="0"/><line x1="90.5" y1="18" x2="90.5" y2="80" stroke="#2a2a2a" stroke-width="3.5" stroke-linecap="round"/><polyline points="93,30 93,80" fill="none" stroke="#a8a8a8" stroke-width="2.7" stroke-linecap="round" stroke-linejoin="round"/><polyline points="93,30 93,80" fill="none" stroke="#e6e6e6" stroke-width="1.5" stroke-linecap="round" stroke-linejoin="round"/><rect x="86" y="30" width="4" height="2" fill="#1c1c1c" stroke="none" stroke-width="0" rx="0"/><rect x="86" y="38" width="4" height="2" fill="#1c1c1c" stroke="none" stroke-width="0" rx="0"/><polyline points="50,78 88,70" fill="none" stroke="#a8a8a8" stroke-width="3.2" stroke-linecap="round" stroke-linejoin="round"/><polyline points="50,78 88,70" fill="none" stroke="#e6e6e6" stroke-width="2" stroke-linecap="round" stroke-linejoin="round"/><polyline points="60,70 70,80" fill="none" stroke="#a8a8a8" stroke-width="3.2" stroke-linecap="round" stroke-linejoin="round"/><polyline points="60,70 70,80" fill="none" stroke="#e6e6e6" stroke-width="2" stroke-linecap="round" stroke-linejoin="round"/><polygon points="25,63 36,62 36,73 28,72" fill="#1c1c1c" stroke="#1c1c1c" stroke-width="0.6" stroke-linejoin="round"/><polygon points="64,67 78,65 80,72 66,73" fill="#1c1c1c" stroke="#1c1c1c" stroke-width="0.6" stroke-linejoin="round"/><polyline points="16,70 24,60 32,60" fill="none" stroke="#666666" stroke-width="10.2" stroke-linecap="round" stroke-linejoin="round"/><polyline points="16,70 24,60 32,60" fill="none" stroke="#d2d2d2" stroke-width="9" stroke-linecap="round" stroke-linejoin="round"/><polyline points="36,78 40,66" fill="none" stroke="#666666" stroke-width="9.2" stroke-linecap="round" stroke-linejoin="round"/><polyline points="36,78 40,66" fill="none" stroke="#d2d2d2" stroke-width="8" stroke-linecap="round" stroke-linejoin="round"/><polygon points="28,58 42,56 46,66 30,68" fill="#1c1c1c" stroke="#1c1c1c" stroke-width="0.6" stroke-linejoin="round"/><polygon points="40,58 50,40 66,42 70,52 54,64" fill="#d2d2d2" stroke="#666666" stroke-width="0.6" stroke-linejoin="round"/><polyline points="54,42 68,54" fill="none" stroke="#4163d8" stroke-width="3.7" stroke-linecap="round" stroke-linejoin="round"/><polyline points="54,42 68,54" fill="none" stroke="#4163d8" stroke-width="2.5" stroke-linecap="round" stroke-linejoin="round"/><polyline points="46,42 44,32" fill="none" stroke="#666666" stroke-width="5.2" stroke-linecap="round" stroke-linejoin="round"/><polyline points="46,42 44,32" fill="none" stroke="#d2d2d2" stroke-width="4" stroke-linecap="round" stroke-linejoin="round"/><polyline points="68,50 68,62" fill="none" stroke="#666666" stroke-width="5.2" stroke-linecap="round" stroke-linejoin="round"/><polyline points="68,50 68,62" fill="none" stroke="#d2d2d2" stroke-width="4" stroke-linecap="round" stroke-linejoin="round"/><rect x="65" y="43.7" width="8" height="4" fill="#1c1c1c" stroke="none" stroke-width="0" rx="0"/><ellipse cx="66.5" cy="39" rx="4.95" ry="5.5" fill="#bdbdbd" stroke="#666666" stroke-width="0.7" transform="rotate(0 66.5 39)"/><line x1="30" y1="26" x2="95" y2="65" stroke="#505050" stroke-width="2.8" stroke-linecap="round"/><ellipse cx="38" cy="30.5" rx="8" ry="9" fill="#1c1c1c" stroke="none" stroke-width="0" transform="rotate(0 38 30.5)"/><ellipse cx="81" cy="57.5" rx="9" ry="12" fill="#1c1c1c" stroke="none" stroke-width="0" transform="rotate(0 81 57.5)"/><ellipse cx="38" cy="30.5" rx="2" ry="2" fill="#666" stroke="none" stroke-width="0" transform="rotate(0 38 30.5)"/></svg></div>
<div class="cap" style="left:266.19px;top:413.40px">Incline</div><div class="cap" style="left:266.19px;top:430.70px">Bench Press</div>
<div class="it" style="left:380.92px;top:334.7px;width:109.46px;height:109.5px;border-left:1px solid #b4b4b4;box-sizing:border-box"><svg width="110" height="110" viewBox="0 0 110 110"><line x1="7" y1="32" x2="27" y2="32" stroke="#777" stroke-width="0.9" stroke-linecap="round"/><line x1="92" y1="33" x2="102" y2="33" stroke="#777" stroke-width="0.9" stroke-linecap="round"/><polyline points="61,60 56,70 52,78" fill="none" stroke="#666666" stroke-width="11.2" stroke-linecap="round" stroke-linejoin="round"/><polyline points="61,60 56,70 52,78" fill="none" stroke="#d2d2d2" stroke-width="10" stroke-linecap="round" stroke-linejoin="round"/><polyline points="75,60 80,70 84,78" fill="none" stroke="#666666" stroke-width="11.2" stroke-linecap="round" stroke-linejoin="round"/><polyline points="75,60 80,70 84,78" fill="none" stroke="#d2d2d2" stroke-width="10" stroke-linecap="round" stroke-linejoin="round"/><polygon points="56,47 79,47 80,61 68,60 57,61" fill="#262626" stroke="#262626" stroke-width="0.6" stroke-linejoin="round"/><polygon points="55,19 78,18 80,30 76,42 77,50 59,50 60,40" fill="#d2d2d2" stroke="#666666" stroke-width="0.6" stroke-linejoin="round"/><line x1="68" y1="34" x2="68" y2="48" stroke="#888" stroke-width="0.6" stroke-linecap="round"/><line x1="62" y1="38" x2="74" y2="38" stroke="#999" stroke-width="0.5" stroke-linecap="round"/><line x1="62" y1="42" x2="74" y2="42" stroke="#999" stroke-width="0.5" stroke-linecap="round"/><line x1="62" y1="46" x2="74" y2="46" stroke="#999" stroke-width="0.5" stroke-linecap="round"/><polygon points="60,21 68,20 79,22 79,32 68,34 61,30" fill="#4163d8" stroke="#2a47a8" stroke-width="0.5" stroke-linejoin="round"/><polyline points="56,22 42,28 30,34" fill="none" stroke="#666666" stroke-width="6.2" stroke-linecap="round" stroke-linejoin="round"/><polyline points="56,22 42,28 30,34" fill="none" stroke="#d2d2d2" stroke-width="5" stroke-linecap="round" stroke-linejoin="round"/><polyline points="56,21 46,25" fill="none" stroke="#5a78e0" stroke-width="5.7" stroke-linecap="round" stroke-linejoin="round"/><polyline points="56,21 46,25" fill="none" stroke="#5a78e0" stroke-width="4.5" stroke-linecap="round" stroke-linejoin="round"/><polyline points="79,24 86,30 89,36" fill="none" stroke="#666666" stroke-width="5.7" stroke-linecap="round" stroke-linejoin="round"/><polyline points="79,24 86,30 89,36" fill="none" stroke="#d2d2d2" stroke-width="4.5" stroke-linecap="round" stroke-linejoin="round"/><ellipse cx="28" cy="35" rx="2.8" ry="4" fill="none" stroke="#1c1c1c" stroke-width="1.2" transform="rotate(0 28 35)"/><ellipse cx="90" cy="36" rx="2.2" ry="3" fill="none" stroke="#1c1c1c" stroke-width="1" transform="rotate(0 90 36)"/><polyline points="70,13 70,18" fill="none" stroke="#666666" stroke-width="5.2" stroke-linecap="round" stroke-linejoin="round"/><polyline points="70,13 70,18" fill="none" stroke="#d2d2d2" stroke-width="4" stroke-linecap="round" stroke-linejoin="round"/><ellipse cx="71" cy="8" rx="5" ry="6.2" fill="#cfcfcf" stroke="#444" stroke-width="0.9" transform="rotate(0 71 8)"/><ellipse cx="70" cy="4.5" rx="4.6" ry="3" fill="#555" stroke="none" stroke-width="0" transform="rotate(0 70 4.5)"/></svg></div>
<div class="cap" style="left:375.65px;top:413.40px">Cable</div><div class="cap" style="left:375.65px;top:430.70px">Fly</div>
<div class="it" style="left:490.38px;top:334.7px;width:109.46px;height:109.5px;border-left:1px solid #b4b4b4;box-sizing:border-box"><svg width="110" height="110" viewBox="0 0 110 110"><polyline points="17.7,30 17.7,89" fill="none" stroke="#a8a8a8" stroke-width="5.2" stroke-linecap="round" stroke-linejoin="round"/><polyline points="17.7,30 17.7,89" fill="none" stroke="#e6e6e6" stroke-width="4" stroke-linecap="round" stroke-linejoin="round"/><polyline points="23.7,30 23.7,97" fill="none" stroke="#a8a8a8" stroke-width="5.2" stroke-linecap="round" stroke-linejoin="round"/><polyline points="23.7,30 23.7,97" fill="none" stroke="#e6e6e6" stroke-width="4" stroke-linecap="round" stroke-linejoin="round"/><polyline points="44.8,30 44.8,76" fill="none" stroke="#a8a8a8" stroke-width="8.2" stroke-linecap="round" stroke-linejoin="round"/><polyline points="44.8,30 44.8,76" fill="none" stroke="#e6e6e6" stroke-width="7" stroke-linecap="round" stroke-linejoin="round"/><polyline points="66,30 66,103" fill="none" stroke="#a8a8a8" stroke-width="8.2" stroke-linecap="round" stroke-linejoin="round"/><polyline points="66,30 66,103" fill="none" stroke="#e6e6e6" stroke-width="7" stroke-linecap="round" stroke-linejoin="round"/><polyline points="86.8,30 86.8,88" fill="none" stroke="#a8a8a8" stroke-width="8.2" stroke-linecap="round" stroke-linejoin="round"/><polyline points="86.8,30 86.8,88" fill="none" stroke="#e6e6e6" stroke-width="7" stroke-linecap="round" stroke-linejoin="round"/><polyline points="94.5,30 94.5,86" fill="none" stroke="#a8a8a8" stroke-width="3.7" stroke-linecap="round" stroke-linejoin="round"/><polyline points="94.5,30 94.5,86" fill="none" stroke="#e6e6e6" stroke-width="2.5" stroke-linecap="round" stroke-linejoin="round"/><polyline points="13,38 20,38" fill="none" stroke="#a8a8a8" stroke-width="3.7" stroke-linecap="round" stroke-linejoin="round"/><polyline points="13,38 20,38" fill="none" stroke="#e6e6e6" stroke-width="2.5" stroke-linecap="round" stroke-linejoin="round"/><polyline points="13,68 22,66" fill="none" stroke="#a8a8a8" stroke-width="3.7" stroke-linecap="round" stroke-linejoin="round"/><polyline points="13,68 22,66" fill="none" stroke="#e6e6e6" stroke-width="2.5" stroke-linecap="round" stroke-linejoin="round"/><polyline points="48,50 66,52" fill="none" stroke="#a8a8a8" stroke-width="4.2" stroke-linecap="round" stroke-linejoin="round"/><polyline points="48,50 66,52" fill="none" stroke="#e6e6e6" stroke-width="3" stroke-linecap="round" stroke-linejoin="round"/><polyline points="70,56 88,54" fill="none" stroke="#a8a8a8" stroke-width="3.7" stroke-linecap="round" stroke-linejoin="round"/><polyline points="70,56 88,54" fill="none" stroke="#e6e6e6" stroke-width="2.5" stroke-linecap="round" stroke-linejoin="round"/><polyline points="66,100 88,88" fill="none" stroke="#a8a8a8" stroke-width="5.2" stroke-linecap="round" stroke-linejoin="round"/><polyline points="66,100 88,88" fill="none" stroke="#e6e6e6" stroke-width="4" stroke-linecap="round" stroke-linejoin="round"/><polyline points="70,80 88,76" fill="none" stroke="#a8a8a8" stroke-width="3.2" stroke-linecap="round" stroke-linejoin="round"/><polyline points="70,80 88,76" fill="none" stroke="#e6e6e6" stroke-width="2" stroke-linecap="round" stroke-linejoin="round"/><polyline points="26,80 34,100" fill="none" stroke="#a8a8a8" stroke-width="3.2" stroke-linecap="round" stroke-linejoin="round"/><polyline points="26,80 34,100" fill="none" stroke="#e6e6e6" stroke-width="2" stroke-linecap="round" stroke-linejoin="round"/><polyline points="20,98 40,104" fill="none" stroke="#a8a8a8" stroke-width="3.2" stroke-linecap="round" stroke-linejoin="round"/><polyline points="20,98 40,104" fill="none" stroke="#e6e6e6" stroke-width="2" stroke-linecap="round" stroke-linejoin="round"/><ellipse cx="29.7" cy="51.7" rx="4" ry="6.6" fill="#262626" stroke="none" stroke-width="0" transform="rotate(0 29.7 51.7)"/><rect x="40" y="42" width="2.5" height="4" fill="#1c1c1c" stroke="none" stroke-width="0" rx="0"/><rect x="81.5" y="48.3" width="2.5" height="4.5" fill="#1c1c1c" stroke="none" stroke-width="0" rx="0"/><line x1="21.6" y1="60.2" x2="94.7" y2="65.6" stroke="#8a8a8a" stroke-width="2.5" stroke-linecap="round"/><line x1="44" y1="61.8" x2="70" y2="63.5" stroke="#2a2a2a" stroke-width="2" stroke-linecap="round"/><ellipse cx="80" cy="63" rx="4.6" ry="9" fill="#1e1e1e" stroke="none" stroke-width="0" transform="rotate(0 80 63)"/><polygon points="22.8,80 50,71.6 57.5,76 30,88.4" fill="#1c1c1c" stroke="#1c1c1c" stroke-width="0.6" stroke-linejoin="round"/><polyline points="26,70 22,80 20,98" fill="none" stroke="#666666" stroke-width="6.7" stroke-linecap="round" stroke-linejoin="round"/><polyline points="26,70 22,80 20,98" fill="none" stroke="#d2d2d2" stroke-width="5.5" stroke-linecap="round" stroke-linejoin="round"/><polyline points="44,72 46,90 45,104" fill="none" stroke="#666666" stroke-width="7.2" stroke-linecap="round" stroke-linejoin="round"/><polyline points="44,72 46,90 45,104" fill="none" stroke="#d2d2d2" stroke-width="6" stroke-linecap="round" stroke-linejoin="round"/><polygon points="33.5,65 50.3,64 50.3,73.4 36,74" fill="#2a2a2a" stroke="#2a2a2a" stroke-width="0.6" stroke-linejoin="round"/><polygon points="48,60 62,57 64,66 50,70" fill="#d2d2d2" stroke="#666666" stroke-width="0.6" stroke-linejoin="round"/><polygon points="50,58.5 60,57.5 63,66 58,68" fill="#4163d8" stroke="#2a47a8" stroke-width="0.5" stroke-linejoin="round"/><ellipse cx="61" cy="59" rx="3.2" ry="3" fill="#d0d0d0" stroke="#666666" stroke-width="0.5" transform="rotate(0 61 59)"/><rect x="89" y="103.4" width="3" height="4" fill="#777" stroke="none" stroke-width="0" rx="0"/><rect x="94" y="104" width="12" height="1" fill="#bbb" stroke="none" stroke-width="0" rx="0"/><rect x="94" y="106" width="10" height="1" fill="#ccc" stroke="none" stroke-width="0" rx="0"/></svg></div>
<div class="cap" style="left:485.11px;top:333.30px">Pin</div><div class="cap" style="left:485.11px;top:350.30px">Press</div>
<div class="it" style="left:162.00px;top:446px;width:109.46px;height:109.5px;box-sizing:border-box"><svg width="110" height="110" viewBox="0 0 110 110"><polyline points="17,80 20,50 28,36" fill="none" stroke="#e0e0e0" stroke-width="5.2" stroke-linecap="round" stroke-linejoin="round"/><polyline points="17,80 20,50 28,36" fill="none" stroke="#f2f2f2" stroke-width="4" stroke-linecap="round" stroke-linejoin="round"/><polyline points="30,80 28,50 32,36" fill="none" stroke="#e0e0e0" stroke-width="4.7" stroke-linecap="round" stroke-linejoin="round"/><polyline points="30,80 28,50 32,36" fill="none" stroke="#f2f2f2" stroke-width="3.5" stroke-linecap="round" stroke-linejoin="round"/><polyline points="38,80 40,56 46,46" fill="none" stroke="#e0e0e0" stroke-width="5.2" stroke-linecap="round" stroke-linejoin="round"/><polyline points="38,80 40,56 46,46" fill="none" stroke="#f2f2f2" stroke-width="4" stroke-linecap="round" stroke-linejoin="round"/><polyline points="52,80 50,56 52,46" fill="none" stroke="#e0e0e0" stroke-width="4.7" stroke-linecap="round" stroke-linejoin="round"/><polyline points="52,80 50,56 52,46" fill="none" stroke="#f2f2f2" stroke-width="3.5" stroke-linecap="round" stroke-linejoin="round"/><polyline points="26,35 56,34" fill="none" stroke="#e0e0e0" stroke-width="3.7" stroke-linecap="round" stroke-linejoin="round"/><polyline points="26,35 56,34" fill="none" stroke="#f2f2f2" stroke-width="2.5" stroke-linecap="round" stroke-linejoin="round"/><polygon points="31.7,24 43.7,24 43.7,33.5 31.7,33.5" fill="#3c3c3c" stroke="#3c3c3c" stroke-width="0.6" stroke-linejoin="round"/><polygon points="34.8,39 45,39 45,46.7 34.8,46.7" fill="#3c3c3c" stroke="#3c3c3c" stroke-width="0.6" stroke-linejoin="round"/><line x1="30" y1="33" x2="50" y2="31" stroke="#444" stroke-width="1.5" stroke-linecap="round"/><line x1="50" y1="32" x2="88" y2="35" stroke="#333" stroke-width="2.2" stroke-linecap="round"/><polyline points="70,52 70,66 78,76 94,70" fill="none" stroke="#666666" stroke-width="8.2" stroke-linecap="round" stroke-linejoin="round"/><polyline points="70,52 70,66 78,76 94,70" fill="none" stroke="#d2d2d2" stroke-width="7" stroke-linecap="round" stroke-linejoin="round"/><polyline points="80,52 82,68 98,72 101,78" fill="none" stroke="#666666" stroke-width="7.2" stroke-linecap="round" stroke-linejoin="round"/><polyline points="80,52 82,68 98,72 101,78" fill="none" stroke="#d2d2d2" stroke-width="6" stroke-linecap="round" stroke-linejoin="round"/><polyline points="96,66 100,64" fill="none" stroke="#666666" stroke-width="5.2" stroke-linecap="round" stroke-linejoin="round"/><polyline points="96,66 100,64" fill="none" stroke="#d2d2d2" stroke-width="4" stroke-linecap="round" stroke-linejoin="round"/><polygon points="65,40 86,38 88,53 68,55" fill="#1c1c1c" stroke="#1c1c1c" stroke-width="0.6" stroke-linejoin="round"/><polygon points="56,16 74,12 82,28 86,40 66,44 60,32" fill="#d2d2d2" stroke="#666666" stroke-width="0.6" stroke-linejoin="round"/><line x1="66" y1="30" x2="80" y2="30" stroke="#888" stroke-width="0.6" stroke-linecap="round"/><line x1="67" y1="35" x2="82" y2="35" stroke="#888" stroke-width="0.6" stroke-linecap="round"/><line x1="74" y1="24" x2="76" y2="42" stroke="#888" stroke-width="0.6" stroke-linecap="round"/><polygon points="52,16 62,13 64,28 56,30" fill="#4163d8" stroke="#2a47a8" stroke-width="0.5" stroke-linejoin="round"/><polygon points="62,14 74,12 76,26 64,28" fill="#4163d8" stroke="#2a47a8" stroke-width="0.5" stroke-linejoin="round"/><polyline points="72,11 86,10" fill="none" stroke="#2a47a8" stroke-width="5.7" stroke-linecap="round" stroke-linejoin="round"/><polyline points="72,11 86,10" fill="none" stroke="#4163d8" stroke-width="4.5" stroke-linecap="round" stroke-linejoin="round"/><polyline points="86,12 86,26 85,34" fill="none" stroke="#666666" stroke-width="5.2" stroke-linecap="round" stroke-linejoin="round"/><polyline points="86,12 86,26 85,34" fill="none" stroke="#d2d2d2" stroke-width="4" stroke-linecap="round" stroke-linejoin="round"/><ellipse cx="50" cy="9" rx="5.8500000000000005" ry="6.5" fill="#bdbdbd" stroke="#666666" stroke-width="0.7" transform="rotate(0 50 9)"/><ellipse cx="50" cy="6.725" rx="5.5249999999999995" ry="3.9" fill="#555" stroke="none" stroke-width="0" transform="rotate(0 50 6.725)"/></svg></div>
<div class="cap" style="left:156.73px;top:533.00px">Dips</div>
<div class="it" style="left:271.46px;top:446px;width:109.46px;height:109.5px;border-left:1px solid #b4b4b4;box-sizing:border-box"><svg width="110" height="110" viewBox="0 0 110 110"><polyline points="52,66 74,56 88,70 92,80" fill="none" stroke="#666666" stroke-width="13.2" stroke-linecap="round" stroke-linejoin="round"/><polyline points="52,66 74,56 88,70 92,80" fill="none" stroke="#d2d2d2" stroke-width="12" stroke-linecap="round" stroke-linejoin="round"/><polyline points="48,78 66,66 80,80" fill="none" stroke="#666666" stroke-width="11.2" stroke-linecap="round" stroke-linejoin="round"/><polyline points="48,78 66,66 80,80" fill="none" stroke="#d2d2d2" stroke-width="10" stroke-linecap="round" stroke-linejoin="round"/><polygon points="42,70 52,70 50,80 42,80" fill="#1c1c1c" stroke="#1c1c1c" stroke-width="0.6" stroke-linejoin="round"/><polygon points="14,56 40,48 56,54 52,72 30,80 16,72" fill="#d2d2d2" stroke="#666666" stroke-width="0.6" stroke-linejoin="round"/><ellipse cx="22" cy="58" rx="7" ry="5" fill="#4163d8" stroke="#2a47a8" stroke-width="0.5" transform="rotate(-15 22 58)"/><ellipse cx="38" cy="52" rx="9" ry="5.5" fill="#4163d8" stroke="#2a47a8" stroke-width="0.5" transform="rotate(-10 38 52)"/><line x1="32" y1="62" x2="50" y2="60" stroke="#888" stroke-width="0.6" stroke-linecap="round"/><line x1="34" y1="66" x2="50" y2="64" stroke="#888" stroke-width="0.6" stroke-linecap="round"/><line x1="40" y1="58" x2="42" y2="72" stroke="#888" stroke-width="0.6" stroke-linecap="round"/><polyline points="46,54 58,54 60,40" fill="none" stroke="#666666" stroke-width="6.2" stroke-linecap="round" stroke-linejoin="round"/><polyline points="46,54 58,54 60,40" fill="none" stroke="#d2d2d2" stroke-width="5" stroke-linecap="round" stroke-linejoin="round"/><polyline points="14,62 8,70 12,80" fill="none" stroke="#666666" stroke-width="6.2" stroke-linecap="round" stroke-linejoin="round"/><polyline points="14,62 8,70 12,80" fill="none" stroke="#d2d2d2" stroke-width="5" stroke-linecap="round" stroke-linejoin="round"/><ellipse cx="12" cy="58" rx="4.5" ry="5" fill="#bdbdbd" stroke="#666666" stroke-width="0.7" transform="rotate(0 12 58)"/><ellipse cx="51.5" cy="33.5" rx="6.5" ry="6.5" fill="#1c1c1c" stroke="none" stroke-width="0" transform="rotate(0 51.5 33.5)"/><ellipse cx="51.5" cy="33.5" rx="1.8200000000000003" ry="1.8200000000000003" fill="#555" stroke="none" stroke-width="0" transform="rotate(0 51.5 33.5)"/><ellipse cx="63" cy="29" rx="6.5" ry="6.5" fill="#1c1c1c" stroke="none" stroke-width="0" transform="rotate(0 63 29)"/><ellipse cx="63" cy="29" rx="1.8200000000000003" ry="1.8200000000000003" fill="#555" stroke="none" stroke-width="0" transform="rotate(0 63 29)"/><ellipse cx="6.8" cy="54" rx="6.5" ry="6.5" fill="#1c1c1c" stroke="none" stroke-width="0" transform="rotate(0 6.8 54)"/><ellipse cx="6.8" cy="54" rx="1.8200000000000003" ry="1.8200000000000003" fill="#555" stroke="none" stroke-width="0" transform="rotate(0 6.8 54)"/><ellipse cx="20" cy="48" rx="6.5" ry="6.5" fill="#1c1c1c" stroke="none" stroke-width="0" transform="rotate(0 20 48)"/><ellipse cx="20" cy="48" rx="1.8200000000000003" ry="1.8200000000000003" fill="#555" stroke="none" stroke-width="0" transform="rotate(0 20 48)"/></svg></div>
<div class="cap" style="left:266.19px;top:524.70px">Dumbbell</div><div class="cap" style="left:266.19px;top:542.00px">Floor Press</div>
<div class="it" style="left:380.92px;top:446px;width:109.46px;height:109.5px;border-left:1px solid #b4b4b4;box-sizing:border-box"><svg width="110" height="110" viewBox="0 0 110 110"><polyline points="56,70 70,62 78,48" fill="none" stroke="#666666" stroke-width="7.2" stroke-linecap="round" stroke-linejoin="round"/><polyline points="56,70 70,62 78,48" fill="none" stroke="#d2d2d2" stroke-width="6" stroke-linecap="round" stroke-linejoin="round"/><polyline points="62,80 86,72 106,60" fill="none" stroke="#666666" stroke-width="7.2" stroke-linecap="round" stroke-linejoin="round"/><polyline points="62,80 86,72 106,60" fill="none" stroke="#d2d2d2" stroke-width="6" stroke-linecap="round" stroke-linejoin="round"/><polygon points="52,66 70,64 72,82 54,84" fill="#1c1c1c" stroke="#1c1c1c" stroke-width="0.6" stroke-linejoin="round"/><polygon points="26,84 46,70 60,78 56,96 38,104 26,98" fill="#d2d2d2" stroke="#666666" stroke-width="0.6" stroke-linejoin="round"/><polygon points="24,80 38,76 48,84 46,100 34,98 26,92" fill="#4163d8" stroke="#2a47a8" stroke-width="0.5" stroke-linejoin="round"/><polyline points="26,82 22,72 24,66" fill="none" stroke="#666666" stroke-width="5.7" stroke-linecap="round" stroke-linejoin="round"/><polyline points="26,82 22,72 24,66" fill="none" stroke="#d2d2d2" stroke-width="4.5" stroke-linecap="round" stroke-linejoin="round"/><polyline points="48,98 56,92 58,86" fill="none" stroke="#666666" stroke-width="5.7" stroke-linecap="round" stroke-linejoin="round"/><polyline points="48,98 56,92 58,86" fill="none" stroke="#d2d2d2" stroke-width="4.5" stroke-linecap="round" stroke-linejoin="round"/><ellipse cx="25" cy="97" rx="5.8500000000000005" ry="6.5" fill="#bdbdbd" stroke="#666666" stroke-width="0.7" transform="rotate(0 25 97)"/><ellipse cx="25" cy="94.725" rx="5.5249999999999995" ry="3.9" fill="#555" stroke="none" stroke-width="0" transform="rotate(0 25 94.725)"/><line x1="0" y1="53.4" x2="88.7" y2="106.7" stroke="#5a5a5a" stroke-width="2.8" stroke-linecap="round"/><ellipse cx="12.5" cy="60" rx="9.5" ry="11" fill="#1c1c1c" stroke="none" stroke-width="0" transform="rotate(0 12.5 60)"/><ellipse cx="70" cy="95.5" rx="9.5" ry="12.5" fill="#1c1c1c" stroke="none" stroke-width="0" transform="rotate(0 70 95.5)"/><ellipse cx="12.5" cy="60" rx="2.2" ry="2.2" fill="#666" stroke="none" stroke-width="0" transform="rotate(0 12.5 60)"/><rect x="90" y="103.7" width="3" height="4" fill="#777" stroke="none" stroke-width="0" rx="0"/><rect x="95" y="104" width="11" height="1" fill="#bbb" stroke="none" stroke-width="0" rx="0"/><rect x="95" y="106" width="9" height="1" fill="#ccc" stroke="none" stroke-width="0" rx="0"/></svg></div>
<div class="cap" style="left:375.65px;top:444.60px">Barbell</div><div class="cap" style="left:375.65px;top:461.60px">Floor Press</div>
<div class="it" style="left:490.38px;top:446px;width:109.46px;height:109.5px;border-left:1px solid #b4b4b4;box-sizing:border-box"><svg width="110" height="110" viewBox="0 0 110 110"><polyline points="6,66 12,61 26,62" fill="none" stroke="#666666" stroke-width="10.2" stroke-linecap="round" stroke-linejoin="round"/><polyline points="6,66 12,61 26,62" fill="none" stroke="#d2d2d2" stroke-width="9" stroke-linecap="round" stroke-linejoin="round"/><polyline points="20,64 30,62 36,66" fill="none" stroke="#666666" stroke-width="7.2" stroke-linecap="round" stroke-linejoin="round"/><polyline points="20,64 30,62 36,66" fill="none" stroke="#d2d2d2" stroke-width="6" stroke-linecap="round" stroke-linejoin="round"/><polygon points="12,67 36,65 39,76 16,76" fill="#1c1c1c" stroke="#1c1c1c" stroke-width="0.6" stroke-linejoin="round"/><polygon points="16,76 40,72 66,80 67,96 40,100 18,90" fill="#d2d2d2" stroke="#666666" stroke-width="0.6" stroke-linejoin="round"/><line x1="30" y1="82" x2="52" y2="84" stroke="#888" stroke-width="0.6" stroke-linecap="round"/><line x1="44" y1="78" x2="46" y2="96" stroke="#888" stroke-width="0.6" stroke-linecap="round"/><polyline points="5,79 22,85" fill="none" stroke="#2a47a8" stroke-width="9.2" stroke-linecap="round" stroke-linejoin="round"/><polyline points="5,79 22,85" fill="none" stroke="#4163d8" stroke-width="8" stroke-linecap="round" stroke-linejoin="round"/><polyline points="27,96 40,99" fill="none" stroke="#2a47a8" stroke-width="6.2" stroke-linecap="round" stroke-linejoin="round"/><polyline points="27,96 40,99" fill="none" stroke="#4163d8" stroke-width="5" stroke-linecap="round" stroke-linejoin="round"/><polyline points="62,83 83,90" fill="none" stroke="#2a47a8" stroke-width="9.2" stroke-linecap="round" stroke-linejoin="round"/><polyline points="62,83 83,90" fill="none" stroke="#4163d8" stroke-width="8" stroke-linecap="round" stroke-linejoin="round"/><polyline points="84,90 106,93" fill="none" stroke="#666666" stroke-width="5.7" stroke-linecap="round" stroke-linejoin="round"/><polyline points="84,90 106,93" fill="none" stroke="#d2d2d2" stroke-width="4.5" stroke-linecap="round" stroke-linejoin="round"/><polyline points="10,82 16,96 22,104" fill="none" stroke="#666666" stroke-width="6.2" stroke-linecap="round" stroke-linejoin="round"/><polyline points="10,82 16,96 22,104" fill="none" stroke="#d2d2d2" stroke-width="5" stroke-linecap="round" stroke-linejoin="round"/><polyline points="22,104 28,106" fill="none" stroke="#666666" stroke-width="4.2" stroke-linecap="round" stroke-linejoin="round"/><polyline points="22,104 28,106" fill="none" stroke="#d2d2d2" stroke-width="3" stroke-linecap="round" stroke-linejoin="round"/><ellipse cx="52" cy="96" rx="8" ry="9.5" fill="#4a4a4a" stroke="none" stroke-width="0" transform="rotate(0 52 96)"/><rect x="89" y="103.4" width="3" height="4" fill="#777" stroke="none" stroke-width="0" rx="0"/><rect x="94" y="104" width="12" height="1" fill="#bbb" stroke="none" stroke-width="0" rx="0"/><rect x="94" y="106" width="10" height="1" fill="#ccc" stroke="none" stroke-width="0" rx="0"/></svg></div>
<div class="cap" style="left:485.11px;top:444.60px">Archer</div><div class="cap" style="left:485.11px;top:461.60px">Push Ups</div>
<div class="it" style="left:599.84px;top:446px;width:109.46px;height:109.5px;border-left:1px solid #b4b4b4;box-sizing:border-box"><svg width="110" height="110" viewBox="0 0 110 110"><polyline points="3,84 16,76 36,68" fill="none" stroke="#666666" stroke-width="10.2" stroke-linecap="round" stroke-linejoin="round"/><polyline points="3,84 16,76 36,68" fill="none" stroke="#d2d2d2" stroke-width="9" stroke-linecap="round" stroke-linejoin="round"/><polyline points="4,88 8,80" fill="none" stroke="#666666" stroke-width="6.2" stroke-linecap="round" stroke-linejoin="round"/><polyline points="4,88 8,80" fill="none" stroke="#d2d2d2" stroke-width="5" stroke-linecap="round" stroke-linejoin="round"/><polyline points="14,86 16,80" fill="none" stroke="#666666" stroke-width="5.2" stroke-linecap="round" stroke-linejoin="round"/><polyline points="14,86 16,80" fill="none" stroke="#d2d2d2" stroke-width="4" stroke-linecap="round" stroke-linejoin="round"/><polygon points="33,60 52,55 54,78 36,80" fill="#1c1c1c" stroke="#1c1c1c" stroke-width="0.6" stroke-linejoin="round"/><polygon points="50,56 72,42 90,40 100,50 96,64 76,72 56,78" fill="#d2d2d2" stroke="#666666" stroke-width="0.6" stroke-linejoin="round"/><line x1="62" y1="56" x2="88" y2="50" stroke="#888" stroke-width="0.6" stroke-linecap="round"/><line x1="72" y1="48" x2="74" y2="66" stroke="#888" stroke-width="0.6" stroke-linecap="round"/><polygon points="66,62 82,56 96,58 94,68 76,70" fill="#4163d8" stroke="#2a47a8" stroke-width="0.5" stroke-linejoin="round"/><ellipse cx="57.5" cy="68" rx="4.5" ry="10" fill="#4163d8" stroke="#2a47a8" stroke-width="0.5" transform="rotate(10 57.5 68)"/><polyline points="56,76 52,92 54,104" fill="none" stroke="#666666" stroke-width="7.2" stroke-linecap="round" stroke-linejoin="round"/><polyline points="56,76 52,92 54,104" fill="none" stroke="#d2d2d2" stroke-width="6" stroke-linecap="round" stroke-linejoin="round"/><polyline points="96,64 95,86 100,98" fill="none" stroke="#666666" stroke-width="6.7" stroke-linecap="round" stroke-linejoin="round"/><polyline points="96,64 95,86 100,98" fill="none" stroke="#d2d2d2" stroke-width="5.5" stroke-linecap="round" stroke-linejoin="round"/><polyline points="52,104 62,106" fill="none" stroke="#666666" stroke-width="4.2" stroke-linecap="round" stroke-linejoin="round"/><polyline points="52,104 62,106" fill="none" stroke="#d2d2d2" stroke-width="3" stroke-linecap="round" stroke-linejoin="round"/><polyline points="98,98 106,101" fill="none" stroke="#666666" stroke-width="4.2" stroke-linecap="round" stroke-linejoin="round"/><polyline points="98,98 106,101" fill="none" stroke="#d2d2d2" stroke-width="3" stroke-linecap="round" stroke-linejoin="round"/><ellipse cx="94" cy="42" rx="6.75" ry="7.5" fill="#bdbdbd" stroke="#666666" stroke-width="0.7" transform="rotate(0 94 42)"/><ellipse cx="94" cy="39.375" rx="6.375" ry="4.5" fill="#555" stroke="none" stroke-width="0" transform="rotate(0 94 39.375)"/><rect x="91" y="103.4" width="3" height="4" fill="#777" stroke="none" stroke-width="0" rx="0"/><rect x="96" y="104" width="10" height="1" fill="#bbb" stroke="none" stroke-width="0" rx="0"/></svg></div>
<div class="cap" style="left:594.57px;top:452.60px">Push Ups</div>
<div class="it" style="left:709.30px;top:446px;width:109.46px;height:109.5px;border-left:1px solid #b4b4b4;box-sizing:border-box"><svg width="110" height="110" viewBox="0 0 110 110"><polygon points="53,91 108,90 108,100 53,101" fill="#b8b8b8" stroke="#888" stroke-width="0.6" stroke-linejoin="round"/><polygon points="56,84 106,83 108,90 53,91" fill="#262626" stroke="#262626" stroke-width="0.6" stroke-linejoin="round"/><polygon points="55,101 84,100 84,108 55,108" fill="#c8c8c8" stroke="#999" stroke-width="0.5" stroke-linejoin="round"/><polygon points="90,100 107,100 107,106 90,106" fill="#c8c8c8" stroke="#999" stroke-width="0.5" stroke-linejoin="round"/><polyline points="2,84 16,76 38,72" fill="none" stroke="#666666" stroke-width="8.2" stroke-linecap="round" stroke-linejoin="round"/><polyline points="2,84 16,76 38,72" fill="none" stroke="#d2d2d2" stroke-width="7" stroke-linecap="round" stroke-linejoin="round"/><polyline points="4,86 6,90" fill="none" stroke="#666666" stroke-width="4.2" stroke-linecap="round" stroke-linejoin="round"/><polyline points="4,86 6,90" fill="none" stroke="#d2d2d2" stroke-width="3" stroke-linecap="round" stroke-linejoin="round"/><polygon points="36,65 52,62 54,84 38,86" fill="#1c1c1c" stroke="#1c1c1c" stroke-width="0.6" stroke-linejoin="round"/><polygon points="50,64 74,56 92,60 90,74 70,82 52,80" fill="#d2d2d2" stroke="#666666" stroke-width="0.6" stroke-linejoin="round"/><polygon points="66,72 88,70 88,80 70,82" fill="#4163d8" stroke="#2a47a8" stroke-width="0.5" stroke-linejoin="round"/><polyline points="58,62 64,58" fill="none" stroke="#4163d8" stroke-width="5.2" stroke-linecap="round" stroke-linejoin="round"/><polyline points="58,62 64,58" fill="none" stroke="#4163d8" stroke-width="4" stroke-linecap="round" stroke-linejoin="round"/><polyline points="58,78 62,88 64,94" fill="none" stroke="#666666" stroke-width="5.2" stroke-linecap="round" stroke-linejoin="round"/><polyline points="58,78 62,88 64,94" fill="none" stroke="#d2d2d2" stroke-width="4" stroke-linecap="round" stroke-linejoin="round"/><polyline points="88,74 96,84" fill="none" stroke="#666666" stroke-width="4.7" stroke-linecap="round" stroke-linejoin="round"/><polyline points="88,74 96,84" fill="none" stroke="#d2d2d2" stroke-width="3.5" stroke-linecap="round" stroke-linejoin="round"/><ellipse cx="95" cy="60" rx="7.2" ry="8" fill="#bdbdbd" stroke="#666666" stroke-width="0.7" transform="rotate(0 95 60)"/><ellipse cx="95" cy="57.2" rx="6.8" ry="4.8" fill="#555" stroke="none" stroke-width="0" transform="rotate(0 95 57.2)"/><rect x="91" y="103.4" width="3" height="4" fill="#777" stroke="none" stroke-width="0" rx="0"/><rect x="96" y="104" width="10" height="1" fill="#bbb" stroke="none" stroke-width="0" rx="0"/></svg></div>
<div class="cap" style="left:704.03px;top:444.60px">Incline</div><div class="cap" style="left:704.03px;top:461.60px">Push Ups</div>
<div class="it" style="left:818.76px;top:446px;width:109.46px;height:109.5px;border-left:1px solid #b4b4b4;box-sizing:border-box"><svg width="110" height="110" viewBox="0 0 110 110"><polygon points="15,67.7 26.4,68.3 22.8,86.3 4.2,90" fill="#1c1c1c" stroke="#1c1c1c" stroke-width="0.6" stroke-linejoin="round"/><line x1="14.5" y1="90" x2="14.5" y2="104" stroke="#aaa" stroke-width="1.6" stroke-linecap="round"/><line x1="2.4" y1="106" x2="24" y2="106" stroke="#888" stroke-width="1.2" stroke-linecap="round"/><polyline points="18,70 40,76 60,84" fill="none" stroke="#666666" stroke-width="8.2" stroke-linecap="round" stroke-linejoin="round"/><polyline points="18,70 40,76 60,84" fill="none" stroke="#d2d2d2" stroke-width="7" stroke-linecap="round" stroke-linejoin="round"/><polygon points="56,78 70,78 71,93 56,93" fill="#1c1c1c" stroke="#1c1c1c" stroke-width="0.6" stroke-linejoin="round"/><polygon points="70,80 88,80 96,92 94,100 72,96" fill="#d2d2d2" stroke="#666666" stroke-width="0.6" stroke-linejoin="round"/><polyline points="78,82 88,84" fill="none" stroke="#4163d8" stroke-width="5.2" stroke-linecap="round" stroke-linejoin="round"/><polyline points="78,82 88,84" fill="none" stroke="#4163d8" stroke-width="4" stroke-linecap="round" stroke-linejoin="round"/><polyline points="82,92 90,100" fill="none" stroke="#4163d8" stroke-width="6.2" stroke-linecap="round" stroke-linejoin="round"/><polyline points="82,92 90,100" fill="none" stroke="#4163d8" stroke-width="5" stroke-linecap="round" stroke-linejoin="round"/><ellipse cx="101" cy="94" rx="4.95" ry="5.5" fill="#bdbdbd" stroke="#666666" stroke-width="0.7" transform="rotate(0 101 94)"/></svg></div>
<div class="cap" style="left:813.49px;top:444.60px">Decline</div><div class="cap" style="left:813.49px;top:461.60px">Push Ups</div>
<div class="it" style="left:162.00px;top:557.4px;width:109.46px;height:109.5px;box-sizing:border-box"><svg width="110" height="110" viewBox="0 0 110 110"><polyline points="39.5,9 39.5,54" fill="none" stroke="#a8a8a8" stroke-width="5.7" stroke-linecap="round" stroke-linejoin="round"/><polyline points="39.5,9 39.5,54" fill="none" stroke="#e6e6e6" stroke-width="4.5" stroke-linecap="round" stroke-linejoin="round"/><rect x="36" y="22" width="3" height="1.5" fill="#1c1c1c" stroke="none" stroke-width="0" rx="0"/><rect x="36" y="30" width="3" height="1.5" fill="#1c1c1c" stroke="none" stroke-width="0" rx="0"/><polyline points="85.7,34.8 85.7,80" fill="none" stroke="#a8a8a8" stroke-width="5.7" stroke-linecap="round" stroke-linejoin="round"/><polyline points="85.7,34.8 85.7,80" fill="none" stroke="#e6e6e6" stroke-width="4.5" stroke-linecap="round" stroke-linejoin="round"/><rect x="83" y="44" width="3" height="1.5" fill="#1c1c1c" stroke="none" stroke-width="0" rx="0"/><polyline points="74,80 86,60" fill="none" stroke="#a8a8a8" stroke-width="3.2" stroke-linecap="round" stroke-linejoin="round"/><polyline points="74,80 86,60" fill="none" stroke="#e6e6e6" stroke-width="2" stroke-linecap="round" stroke-linejoin="round"/><polygon points="13,72 66,54 75.5,57 75.5,62 22,80 13,78" fill="#1c1c1c" stroke="#1c1c1c" stroke-width="0.6" stroke-linejoin="round"/><polyline points="6,76 12,60 28,55" fill="none" stroke="#666666" stroke-width="11.2" stroke-linecap="round" stroke-linejoin="round"/><polyline points="6,76 12,60 28,55" fill="none" stroke="#d2d2d2" stroke-width="10" stroke-linecap="round" stroke-linejoin="round"/><polyline points="30,64 32,80" fill="none" stroke="#666666" stroke-width="10.2" stroke-linecap="round" stroke-linejoin="round"/><polyline points="30,64 32,80" fill="none" stroke="#d2d2d2" stroke-width="9" stroke-linecap="round" stroke-linejoin="round"/><polygon points="24,51 46,49 48,60 26,62" fill="#1c1c1c" stroke="#1c1c1c" stroke-width="0.6" stroke-linejoin="round"/><polygon points="40,46 58,40 70,44 72,56 46,60" fill="#d2d2d2" stroke="#666666" stroke-width="0.6" stroke-linejoin="round"/><line x1="48" y1="50" x2="66" y2="48" stroke="#888" stroke-width="0.6" stroke-linecap="round"/><line x1="50" y1="54" x2="66" y2="52" stroke="#888" stroke-width="0.6" stroke-linecap="round"/><ellipse cx="68" cy="49" rx="4" ry="5" fill="#cfcfcf" stroke="#555" stroke-width="0.7" transform="rotate(0 68 49)"/><polyline points="48,21 46.5,40" fill="none" stroke="#666666" stroke-width="6.7" stroke-linecap="round" stroke-linejoin="round"/><polyline points="48,21 46.5,40" fill="none" stroke="#d2d2d2" stroke-width="5.5" stroke-linecap="round" stroke-linejoin="round"/><polyline points="60,21 62,42" fill="none" stroke="#666666" stroke-width="6.7" stroke-linecap="round" stroke-linejoin="round"/><polyline points="60,21 62,42" fill="none" stroke="#d2d2d2" stroke-width="5.5" stroke-linecap="round" stroke-linejoin="round"/><ellipse cx="46" cy="42" rx="3" ry="5" fill="#4163d8" stroke="#2a47a8" stroke-width="0.5" transform="rotate(0 46 42)"/><ellipse cx="62" cy="46.5" rx="3.6" ry="7" fill="#4163d8" stroke="#2a47a8" stroke-width="0.5" transform="rotate(0 62 46.5)"/><line x1="14.4" y1="13.2" x2="108" y2="27.6" stroke="#5e5e5e" stroke-width="2.8" stroke-linecap="round"/><ellipse cx="27.5" cy="15.3" rx="6.5" ry="8.7" fill="#1c1c1c" stroke="none" stroke-width="0" transform="rotate(0 27.5 15.3)"/><ellipse cx="88.4" cy="24.6" rx="6.3" ry="10.8" fill="#1c1c1c" stroke="none" stroke-width="0" transform="rotate(0 88.4 24.6)"/><ellipse cx="27.5" cy="15.3" rx="2" ry="2" fill="#777" stroke="none" stroke-width="0" transform="rotate(0 27.5 15.3)"/></svg></div>
<div class="cap" style="left:156.73px;top:636.10px">Close Grip</div><div class="cap" style="left:156.73px;top:653.40px">Bench Press</div>
<div class="it" style="left:271.46px;top:557.4px;width:109.46px;height:109.5px;border-left:1px solid #b4b4b4;box-sizing:border-box"><svg width="110" height="110" viewBox="0 0 110 110"><polyline points="47,21 47,42" fill="none" stroke="#a8a8a8" stroke-width="4.7" stroke-linecap="round" stroke-linejoin="round"/><polyline points="47,21 47,42" fill="none" stroke="#e6e6e6" stroke-width="3.5" stroke-linecap="round" stroke-linejoin="round"/><polyline points="87,48 87,67" fill="none" stroke="#a8a8a8" stroke-width="4.7" stroke-linecap="round" stroke-linejoin="round"/><polyline points="87,48 87,67" fill="none" stroke="#e6e6e6" stroke-width="3.5" stroke-linecap="round" stroke-linejoin="round"/><polyline points="8,80 12,66 30,60" fill="none" stroke="#666666" stroke-width="11.2" stroke-linecap="round" stroke-linejoin="round"/><polyline points="8,80 12,66 30,60" fill="none" stroke="#d2d2d2" stroke-width="10" stroke-linecap="round" stroke-linejoin="round"/><polyline points="28,74 38,80" fill="none" stroke="#666666" stroke-width="9.2" stroke-linecap="round" stroke-linejoin="round"/><polyline points="28,74 38,80" fill="none" stroke="#d2d2d2" stroke-width="8" stroke-linecap="round" stroke-linejoin="round"/><polygon points="27.6,57.5 46,58 48,74 30,74" fill="#1c1c1c" stroke="#1c1c1c" stroke-width="0.6" stroke-linejoin="round"/><polygon points="40,50 64,50 76,64 74,80 46,80 38,66" fill="#d2d2d2" stroke="#666666" stroke-width="0.6" stroke-linejoin="round"/><polygon points="47,52 58,51 70,66 66,72 52,62" fill="#4163d8" stroke="#2a47a8" stroke-width="0.5" stroke-linejoin="round"/><polyline points="44,52 42,46" fill="none" stroke="#666666" stroke-width="6.2" stroke-linecap="round" stroke-linejoin="round"/><polyline points="44,52 42,46" fill="none" stroke="#d2d2d2" stroke-width="5" stroke-linecap="round" stroke-linejoin="round"/><ellipse cx="68" cy="54" rx="4.95" ry="5.5" fill="#bdbdbd" stroke="#666666" stroke-width="0.7" transform="rotate(0 68 54)"/><line x1="16.8" y1="22.8" x2="99.5" y2="80" stroke="#606060" stroke-width="2.8" stroke-linecap="round"/><ellipse cx="30" cy="32" rx="7.5" ry="8.7" fill="#1c1c1c" stroke="none" stroke-width="0" transform="rotate(20 30 32)"/><ellipse cx="90" cy="73" rx="7.5" ry="9" fill="#1c1c1c" stroke="none" stroke-width="0" transform="rotate(20 90 73)"/><ellipse cx="30" cy="32" rx="1.8" ry="1.8" fill="#777" stroke="none" stroke-width="0" transform="rotate(0 30 32)"/></svg></div>
<div class="cap" style="left:266.19px;top:636.10px">Decline</div><div class="cap" style="left:266.19px;top:653.40px">Bench Press</div>
<svg class="logo" width="1140" height="70" viewBox="0 0 1140 70"><rect x="884.60" y="20.00" width="9.1" height="9.1" rx="1.8" fill="#ff7f7f"/><rect x="895.25" y="20.00" width="9.1" height="9.1" rx="1.8" fill="#ff7f7f"/><rect x="905.90" y="20.00" width="9.1" height="9.1" rx="1.8" fill="#454545"/><rect x="916.55" y="20.00" width="9.1" height="9.1" rx="1.8" fill="#454545"/><rect x="884.60" y="30.65" width="9.1" height="9.1" rx="1.8" fill="#ffbf7f"/><rect x="895.25" y="30.65" width="9.1" height="9.1" rx="1.8" fill="#ffbf7f"/><rect x="905.90" y="30.65" width="9.1" height="9.1" rx="1.8" fill="#ffbf7f"/><rect x="916.55" y="30.65" width="9.1" height="9.1" rx="1.8" fill="#ffbf7f"/><rect x="884.60" y="41.30" width="9.1" height="9.1" rx="1.8" fill="#ffff7f"/><rect x="895.25" y="41.30" width="9.1" height="9.1" rx="1.8" fill="#ffff7f"/><rect x="905.90" y="41.30" width="9.1" height="9.1" rx="1.8" fill="#454545"/><rect x="916.55" y="41.30" width="9.1" height="9.1" rx="1.8" fill="#454545"/><rect x="884.60" y="51.95" width="9.1" height="9.1" rx="1.8" fill="#7fff7f"/><rect x="895.25" y="51.95" width="9.1" height="9.1" rx="1.8" fill="#7fff7f"/><rect x="905.90" y="51.95" width="9.1" height="9.1" rx="1.8" fill="#7fff7f"/><rect x="916.55" y="51.95" width="9.1" height="9.1" rx="1.8" fill="#454545"/><g fill="#fff"><polygon points="932.4,26.5 951,26.5 951,33.4 946.2,33.4 946.2,57.9 937.8,57.9 937.8,33.4 932.4,33.4"/><rect x="953.4" y="26.6" width="8.1" height="6.1"/><rect x="953.4" y="35.3" width="8.1" height="18.7"/><polygon points="963.90,26.20 982.60,26.20 982.60,33.30 971.80,33.30 971.80,37.65 976.10,37.65 976.10,42.90 971.80,42.90 971.80,46.75 982.60,46.75 982.60,53.90 963.90,53.90"/><path fill-rule="evenodd" d="M984.70,26.50 999.35,26.50 1003.50,30.40 1003.50,40.25 999.35,40.55 1003.50,44.40 1003.50,57.60 995.80,57.60 995.80,45.90 992.80,42.95 992.80,53.70 984.70,53.70Z M992.80,37.60 996.10,37.60 996.10,33.40 992.80,33.40Z"/><polygon points="1006.10,26.50 1018.40,26.50 1023.80,31.90 1035.20,31.90 1035.20,53.75 1027.40,53.75 1027.40,39.40 1024.70,39.40 1024.70,53.75 1016.90,53.75 1016.90,33.70 1013.90,33.70 1013.90,53.75 1006.10,53.75"/><path fill-rule="evenodd" d="M1037.90,26.50 1049.90,26.50 1056.40,35.80 1056.40,53.70 1048.40,53.70 1048.40,42.60 1045.70,42.60 1045.70,53.70 1037.90,53.70Z M1045.25,31.90 1048.50,37.70 1045.25,37.70Z"/><polygon points="1058.80,26.50 1066.90,26.50 1066.90,36.10 1069.90,33.10 1069.90,30.10 1077.10,30.10 1077.10,36.40 1073.20,40.00 1077.10,40.00 1077.10,57.60 1069.90,57.60 1069.90,43.50 1066.90,42.90 1066.90,53.70 1058.80,53.70"/><polygon points="1079.90,26.20 1098.60,26.20 1098.60,33.30 1087.80,33.30 1087.80,37.65 1092.10,37.65 1092.10,42.90 1087.80,42.90 1087.80,46.75 1098.60,46.75 1098.60,53.90 1079.90,53.90"/><path fill-rule="evenodd" d="M1101.10,26.50 1115.75,26.50 1119.90,30.40 1119.90,40.25 1115.75,40.55 1119.90,44.40 1119.90,57.60 1112.20,57.60 1112.20,45.90 1109.20,42.95 1109.20,53.70 1101.10,53.70Z M1109.20,37.60 1112.50,37.60 1112.50,33.40 1109.20,33.40Z"/></g></svg>
</body></html>
